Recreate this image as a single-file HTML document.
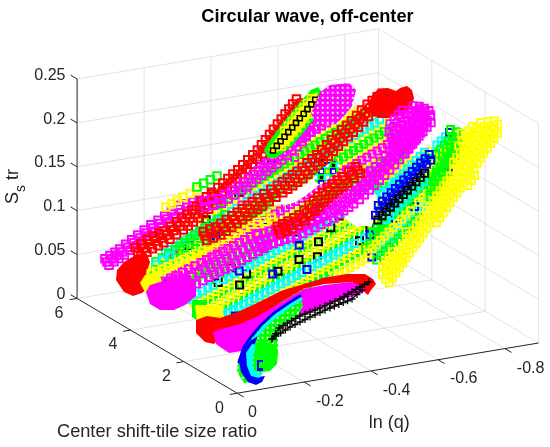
<!DOCTYPE html>
<html><head><meta charset="utf-8"><style>
html,body{margin:0;padding:0;background:#fff;}
body{width:550px;height:447px;overflow:hidden;position:relative;}
svg{position:absolute;left:0;top:0;}
text{font-family:"Liberation Sans",Arial,sans-serif;fill:#262626;}
</style></head><body>
<svg width="550" height="447" viewBox="0 0 550 447">
<rect width="550" height="447" fill="#fff"/>
<g stroke="#dcdcdc" stroke-width="0.8" fill="none"><line x1="144.1" y1="287.3" x2="144.1" y2="67.8"/><line x1="211.0" y1="276.2" x2="211.0" y2="56.7"/><line x1="278.0" y1="265.0" x2="278.0" y2="45.5"/><line x1="344.9" y1="253.9" x2="344.9" y2="34.4"/><line x1="77.1" y1="254.6" x2="378.4" y2="204.4"/><line x1="77.1" y1="210.7" x2="378.4" y2="160.5"/><line x1="77.1" y1="166.8" x2="378.4" y2="116.6"/><line x1="77.1" y1="122.9" x2="378.4" y2="72.7"/><line x1="77.1" y1="79.0" x2="378.4" y2="28.8"/><line x1="538.5" y1="343.0" x2="538.5" y2="123.5"/><line x1="485.1" y1="311.4" x2="485.1" y2="91.9"/><line x1="431.8" y1="279.9" x2="431.8" y2="60.4"/><line x1="378.4" y1="248.3" x2="378.4" y2="28.8"/><line x1="538.5" y1="343.0" x2="378.4" y2="248.3"/><line x1="538.5" y1="299.1" x2="378.4" y2="204.4"/><line x1="538.5" y1="255.2" x2="378.4" y2="160.5"/><line x1="538.5" y1="211.3" x2="378.4" y2="116.6"/><line x1="538.5" y1="167.4" x2="378.4" y2="72.7"/><line x1="538.5" y1="123.5" x2="378.4" y2="28.8"/><line x1="304.2" y1="382.0" x2="144.1" y2="287.3"/><line x1="371.1" y1="370.9" x2="211.0" y2="276.2"/><line x1="438.1" y1="359.7" x2="278.0" y2="265.0"/><line x1="505.0" y1="348.6" x2="344.9" y2="253.9"/><line x1="183.8" y1="361.6" x2="485.1" y2="311.4"/><line x1="130.5" y1="330.1" x2="431.8" y2="279.9"/><line x1="77.1" y1="298.5" x2="378.4" y2="248.3"/></g>
<defs><pattern id="Lr" width="6" height="6" patternUnits="userSpaceOnUse"><rect width="6" height="6" fill="#ff0000"/><rect x="1.6" y="1.6" width="3.2" height="3.2" fill="#fff"/></pattern><pattern id="Dr" width="5" height="5" patternUnits="userSpaceOnUse"><rect width="5" height="5" fill="#ff0000"/><rect x="1.8" y="1.8" width="1.8" height="2" fill="#fff"/></pattern><pattern id="Lm" width="6" height="6" patternUnits="userSpaceOnUse"><rect width="6" height="6" fill="#ff00ff"/><rect x="1.6" y="1.6" width="3.2" height="3.2" fill="#fff"/></pattern><pattern id="Dm" width="5" height="5" patternUnits="userSpaceOnUse"><rect width="5" height="5" fill="#ff00ff"/><rect x="1.8" y="1.8" width="1.8" height="2" fill="#fff"/></pattern><pattern id="Ly" width="6" height="6" patternUnits="userSpaceOnUse"><rect width="6" height="6" fill="#ffff00"/><rect x="1.6" y="1.6" width="3.2" height="3.2" fill="#fff"/></pattern><pattern id="Dy" width="5" height="5" patternUnits="userSpaceOnUse"><rect width="5" height="5" fill="#ffff00"/><rect x="1.8" y="1.8" width="1.8" height="2" fill="#fff"/></pattern><pattern id="Lg" width="6" height="6" patternUnits="userSpaceOnUse"><rect width="6" height="6" fill="#00ff00"/><rect x="1.6" y="1.6" width="3.2" height="3.2" fill="#fff"/></pattern><pattern id="Dg" width="5" height="5" patternUnits="userSpaceOnUse"><rect width="5" height="5" fill="#00ff00"/><rect x="1.8" y="1.8" width="1.8" height="2" fill="#fff"/></pattern><pattern id="Lc" width="6" height="6" patternUnits="userSpaceOnUse"><rect width="6" height="6" fill="#00ffff"/><rect x="1.6" y="1.6" width="3.2" height="3.2" fill="#fff"/></pattern><pattern id="Dc" width="5" height="5" patternUnits="userSpaceOnUse"><rect width="5" height="5" fill="#00ffff"/><rect x="1.8" y="1.8" width="1.8" height="2" fill="#fff"/></pattern><pattern id="Lb" width="6" height="6" patternUnits="userSpaceOnUse"><rect width="6" height="6" fill="#0000ff"/><rect x="1.6" y="1.6" width="3.2" height="3.2" fill="#fff"/></pattern><pattern id="Db" width="5" height="5" patternUnits="userSpaceOnUse"><rect width="5" height="5" fill="#0000ff"/><rect x="1.8" y="1.8" width="1.8" height="2" fill="#fff"/></pattern><pattern id="Lk" width="6" height="6" patternUnits="userSpaceOnUse"><rect width="6" height="6" fill="#000000"/><rect x="1.6" y="1.6" width="3.2" height="3.2" fill="#fff"/></pattern><pattern id="Dk" width="5" height="5" patternUnits="userSpaceOnUse"><rect width="5" height="5" fill="#000000"/><rect x="1.8" y="1.8" width="1.8" height="2" fill="#fff"/></pattern><pattern id="Xyg" width="12" height="12" patternUnits="userSpaceOnUse"><rect width="12" height="12" fill="#ffff00"/><rect x="6" y="0" width="6" height="6" fill="#00ff00"/><rect x="1.8" y="1.8" width="3.3" height="3.3" fill="#fff"/><rect x="7.8" y="1.8" width="3.3" height="3.3" fill="#fff"/><rect x="1.8" y="7.8" width="3.3" height="3.3" fill="#fff"/><rect x="7.8" y="7.8" width="3.3" height="3.3" fill="#0000ff"/></pattern><pattern id="Xym" width="12" height="12" patternUnits="userSpaceOnUse"><rect width="12" height="12" fill="#ffff00"/><rect x="0" y="6" width="6" height="6" fill="#ff00ff"/><rect x="6" y="0" width="6" height="6" fill="#00ff00"/><rect x="1.8" y="1.8" width="3.3" height="3.3" fill="#fff"/><rect x="7.8" y="1.8" width="3.3" height="3.3" fill="#fff"/><rect x="1.8" y="7.8" width="3.3" height="3.3" fill="#fff"/><rect x="7.8" y="7.8" width="3.3" height="3.3" fill="#fff"/></pattern><pattern id="Xgc" width="12" height="12" patternUnits="userSpaceOnUse"><rect width="12" height="12" fill="#00ff00"/><rect x="0" y="6" width="6" height="6" fill="#00ffff"/><rect x="6" y="0" width="6" height="6" fill="#0000ff"/><rect x="1.8" y="1.8" width="3.3" height="3.3" fill="#ffff00"/><rect x="7.8" y="1.8" width="3.3" height="3.3" fill="#fff"/><rect x="1.8" y="7.8" width="3.3" height="3.3" fill="#fff"/><rect x="7.8" y="7.8" width="3.3" height="3.3" fill="#000"/></pattern><pattern id="Xyk" width="12" height="12" patternUnits="userSpaceOnUse"><rect width="12" height="12" fill="#ffff00"/><rect x="6" y="6" width="6" height="6" fill="#00ff00"/><rect x="1.8" y="1.8" width="3.3" height="3.3" fill="#000"/><rect x="7.8" y="1.8" width="3.3" height="3.3" fill="#fff"/><rect x="1.8" y="7.8" width="3.3" height="3.3" fill="#fff"/><rect x="7.8" y="7.8" width="3.3" height="3.3" fill="#000"/></pattern><pattern id="Xgy" width="12" height="12" patternUnits="userSpaceOnUse"><rect width="12" height="12" fill="#ffff00"/><rect x="6" y="0" width="6" height="6" fill="#00ff00"/><rect x="0" y="6" width="6" height="6" fill="#00ff00"/><rect x="1.8" y="1.8" width="3.3" height="3.3" fill="#fff"/><rect x="7.8" y="1.8" width="3.3" height="3.3" fill="#0000ff"/><rect x="1.8" y="7.8" width="3.3" height="3.3" fill="#00ffff"/><rect x="7.8" y="7.8" width="3.3" height="3.3" fill="#fff"/></pattern></defs>
<path d="M307.8 121.5h7v7h-7zM312.9 118.3h7v7h-7zM237.1 180.1h7v7h-7zM242.2 177.0h7v7h-7zM247.3 173.8h7v7h-7zM252.4 170.7h7v7h-7zM257.5 167.5h7v7h-7zM262.6 164.3h7v7h-7zM272.8 158.0h7v7h-7zM277.9 154.9h7v7h-7zM283.0 151.7h7v7h-7zM288.1 148.5h7v7h-7zM293.2 145.4h7v7h-7zM298.3 142.2h7v7h-7zM303.4 139.0h7v7h-7zM308.5 135.9h7v7h-7zM313.6 132.7h7v7h-7zM318.7 129.6h7v7h-7zM323.8 126.4h7v7h-7zM328.9 123.2h7v7h-7zM334.0 120.1h7v7h-7zM339.1 116.9h7v7h-7zM344.2 113.8h7v7h-7zM349.3 110.6h7v7h-7zM354.4 107.4h7v7h-7zM197.6 219.5h7v7h-7zM207.8 213.2h7v7h-7zM212.9 210.0h7v7h-7zM218.0 206.8h7v7h-7zM223.1 203.7h7v7h-7zM228.2 200.5h7v7h-7zM233.3 197.4h7v7h-7zM238.4 194.2h7v7h-7zM248.6 187.9h7v7h-7zM253.7 184.7h7v7h-7zM258.8 181.6h7v7h-7zM263.9 178.4h7v7h-7zM269.0 175.2h7v7h-7zM274.1 172.1h7v7h-7zM279.2 168.9h7v7h-7zM284.3 165.7h7v7h-7zM289.4 162.6h7v7h-7zM294.5 159.4h7v7h-7zM299.6 156.3h7v7h-7zM304.7 153.1h7v7h-7zM309.8 149.9h7v7h-7zM314.9 146.8h7v7h-7zM320.0 143.6h7v7h-7zM325.1 140.5h7v7h-7zM330.2 137.3h7v7h-7zM335.3 134.1h7v7h-7zM340.4 131.0h7v7h-7zM345.5 127.8h7v7h-7zM350.6 124.6h7v7h-7zM355.7 121.5h7v7h-7zM360.8 118.3h7v7h-7zM365.9 115.2h7v7h-7zM371.0 112.0h7v7h-7zM144.5 267.2h7v7h-7zM149.6 264.1h7v7h-7zM154.7 260.9h7v7h-7zM159.8 257.8h7v7h-7zM164.9 254.6h7v7h-7zM175.1 248.3h7v7h-7zM180.2 245.1h7v7h-7zM190.4 238.8h7v7h-7zM195.5 235.6h7v7h-7zM200.6 232.5h7v7h-7zM205.7 229.3h7v7h-7zM210.8 226.1h7v7h-7zM215.9 223.0h7v7h-7zM221.0 219.8h7v7h-7zM226.1 216.7h7v7h-7zM231.2 213.5h7v7h-7zM236.3 210.3h7v7h-7zM241.4 207.2h7v7h-7zM246.5 204.0h7v7h-7zM251.6 200.8h7v7h-7zM256.7 197.7h7v7h-7zM261.8 194.5h7v7h-7zM266.9 191.4h7v7h-7zM272.0 188.2h7v7h-7zM277.1 185.0h7v7h-7zM282.2 181.9h7v7h-7zM287.3 178.7h7v7h-7zM292.4 175.6h7v7h-7zM297.5 172.4h7v7h-7zM302.6 169.2h7v7h-7zM307.7 166.1h7v7h-7zM312.8 162.9h7v7h-7zM317.9 159.7h7v7h-7zM323.0 156.6h7v7h-7zM328.1 153.4h7v7h-7zM333.2 150.3h7v7h-7zM338.3 147.1h7v7h-7zM343.4 143.9h7v7h-7zM348.5 140.8h7v7h-7zM353.6 137.6h7v7h-7zM358.7 134.5h7v7h-7zM363.8 131.3h7v7h-7zM368.9 128.1h7v7h-7zM374.0 125.0h7v7h-7zM379.1 121.8h7v7h-7zM384.2 118.6h7v7h-7zM145.9 281.2h7v7h-7zM151.0 278.0h7v7h-7zM156.1 274.9h7v7h-7zM161.2 271.7h7v7h-7zM166.3 268.6h7v7h-7zM171.4 265.4h7v7h-7zM176.5 262.2h7v7h-7zM181.6 259.1h7v7h-7zM186.7 255.9h7v7h-7zM191.8 252.7h7v7h-7zM196.9 249.6h7v7h-7zM202.0 246.4h7v7h-7zM207.1 243.3h7v7h-7zM212.2 240.1h7v7h-7zM217.3 236.9h7v7h-7zM222.4 233.8h7v7h-7zM227.5 230.6h7v7h-7zM232.6 227.5h7v7h-7zM237.7 224.3h7v7h-7zM242.8 221.1h7v7h-7zM247.9 218.0h7v7h-7zM253.0 214.8h7v7h-7zM258.1 211.6h7v7h-7zM263.2 208.5h7v7h-7zM268.3 205.3h7v7h-7zM273.4 202.2h7v7h-7zM278.5 199.0h7v7h-7zM283.6 195.8h7v7h-7zM288.7 192.7h7v7h-7zM293.8 189.5h7v7h-7zM304.0 183.2h7v7h-7zM309.1 180.0h7v7h-7zM314.2 176.9h7v7h-7zM319.3 173.7h7v7h-7zM324.4 170.5h7v7h-7zM329.5 167.4h7v7h-7zM334.6 164.2h7v7h-7zM339.6 161.1h7v7h-7zM344.7 157.9h7v7h-7zM349.8 154.7h7v7h-7zM354.9 151.6h7v7h-7zM360.0 148.4h7v7h-7zM365.1 145.3h7v7h-7zM370.2 142.1h7v7h-7zM375.3 138.9h7v7h-7zM380.4 135.8h7v7h-7zM385.5 132.6h7v7h-7zM390.6 129.4h7v7h-7zM154.9 290.4h7v7h-7zM160.0 287.3h7v7h-7zM165.1 284.1h7v7h-7zM170.2 280.9h7v7h-7zM175.3 277.8h7v7h-7zM180.4 274.6h7v7h-7zM185.5 271.5h7v7h-7zM190.6 268.3h7v7h-7zM195.7 265.1h7v7h-7zM200.8 262.0h7v7h-7zM205.9 258.8h7v7h-7zM211.0 255.7h7v7h-7zM216.1 252.5h7v7h-7zM221.2 249.3h7v7h-7zM226.3 246.2h7v7h-7zM231.4 243.0h7v7h-7zM236.5 239.8h7v7h-7zM241.6 236.7h7v7h-7zM246.7 233.5h7v7h-7zM251.8 230.4h7v7h-7zM256.9 227.2h7v7h-7zM262.0 224.0h7v7h-7zM267.1 220.9h7v7h-7zM272.2 217.7h7v7h-7zM277.3 214.5h7v7h-7zM282.4 211.4h7v7h-7zM287.5 208.2h7v7h-7zM292.6 205.1h7v7h-7zM297.7 201.9h7v7h-7zM302.8 198.7h7v7h-7zM307.9 195.6h7v7h-7zM313.0 192.4h7v7h-7zM318.1 189.3h7v7h-7zM323.2 186.1h7v7h-7zM328.3 182.9h7v7h-7zM333.4 179.8h7v7h-7zM338.5 176.6h7v7h-7zM343.6 173.4h7v7h-7zM348.7 170.3h7v7h-7zM353.8 167.1h7v7h-7zM358.9 164.0h7v7h-7zM364.0 160.8h7v7h-7zM369.1 157.6h7v7h-7zM374.2 154.5h7v7h-7zM379.3 151.3h7v7h-7zM384.4 148.2h7v7h-7zM389.5 145.0h7v7h-7zM394.6 141.8h7v7h-7zM289.9 221.6h7v7h-7zM295.0 218.4h7v7h-7zM300.1 215.3h7v7h-7zM305.2 212.1h7v7h-7zM310.3 208.9h7v7h-7zM320.5 202.6h7v7h-7zM325.6 199.4h7v7h-7zM330.7 196.3h7v7h-7zM335.8 193.1h7v7h-7zM340.9 190.0h7v7h-7zM346.0 186.8h7v7h-7zM351.1 183.6h7v7h-7zM356.2 180.5h7v7h-7zM361.3 177.3h7v7h-7zM366.4 174.2h7v7h-7zM371.5 171.0h7v7h-7zM376.6 167.8h7v7h-7zM381.7 164.7h7v7h-7zM386.8 161.5h7v7h-7zM391.9 158.3h7v7h-7z" fill="none" stroke="#ffff00" stroke-width="2.0"/>
<path d="M256.8 160.5h7v7h-7zM261.9 157.4h7v7h-7zM292.5 138.4h7v7h-7zM297.6 135.2h7v7h-7zM302.7 132.1h7v7h-7zM307.8 128.9h7v7h-7zM312.9 125.7h7v7h-7zM318.0 122.6h7v7h-7zM323.1 119.4h7v7h-7zM291.2 154.1h7v7h-7zM357.5 113.0h7v7h-7zM243.5 191.0h7v7h-7zM238.4 201.6h7v7h-7zM170.0 251.4h7v7h-7zM149.3 286.5h7v7h-7zM154.4 283.3h7v7h-7zM164.6 277.0h7v7h-7zM169.7 273.8h7v7h-7zM174.8 270.7h7v7h-7zM179.9 267.5h7v7h-7zM185.0 264.3h7v7h-7zM190.1 261.2h7v7h-7zM195.2 258.0h7v7h-7zM200.3 254.9h7v7h-7zM205.4 251.7h7v7h-7zM210.5 248.5h7v7h-7zM215.6 245.4h7v7h-7zM220.7 242.2h7v7h-7zM225.8 239.1h7v7h-7zM230.9 235.9h7v7h-7zM236.0 232.7h7v7h-7zM241.1 229.6h7v7h-7zM246.2 226.4h7v7h-7zM251.3 223.2h7v7h-7zM256.4 220.1h7v7h-7zM266.6 213.8h7v7h-7zM271.7 210.6h7v7h-7zM276.8 207.4h7v7h-7zM281.9 204.3h7v7h-7zM287.0 201.1h7v7h-7zM292.1 197.9h7v7h-7zM297.2 194.8h7v7h-7zM302.3 191.6h7v7h-7zM307.4 188.5h7v7h-7zM312.5 185.3h7v7h-7zM317.6 182.1h7v7h-7zM322.7 179.0h7v7h-7zM327.8 175.8h7v7h-7zM332.9 172.7h7v7h-7zM338.0 169.5h7v7h-7zM343.1 166.3h7v7h-7zM348.2 163.2h7v7h-7zM353.3 160.0h7v7h-7zM358.4 156.8h7v7h-7zM363.5 153.7h7v7h-7zM368.6 150.5h7v7h-7zM373.7 147.4h7v7h-7zM378.8 144.2h7v7h-7zM383.9 141.0h7v7h-7zM389.0 137.9h7v7h-7zM394.1 134.7h7v7h-7zM254.6 236.0h7v7h-7zM361.7 169.6h7v7h-7z" fill="none" stroke="#ff00ff" stroke-width="2.0"/>
<path d="M267.7 161.2h7v7h-7zM235.1 188.8h7v7h-7zM202.7 216.3h7v7h-7zM314.9 154.2h7v7h-7zM185.3 241.9h7v7h-7zM298.9 186.4h7v7h-7z" fill="none" stroke="#000000" stroke-width="2.0"/>
<path d="M214.7 201.5h7v7h-7zM219.8 198.3h7v7h-7zM224.9 195.2h7v7h-7zM230.0 192.0h7v7h-7zM240.2 185.7h7v7h-7zM245.3 182.5h7v7h-7zM250.4 179.4h7v7h-7zM255.5 176.2h7v7h-7zM260.6 173.0h7v7h-7zM265.7 169.9h7v7h-7zM270.8 166.7h7v7h-7zM275.9 163.5h7v7h-7zM281.0 160.4h7v7h-7zM286.1 157.2h7v7h-7zM296.3 150.9h7v7h-7zM301.4 147.7h7v7h-7zM306.5 144.6h7v7h-7zM311.6 141.4h7v7h-7zM316.7 138.3h7v7h-7zM321.8 135.1h7v7h-7zM326.9 131.9h7v7h-7zM332.0 128.8h7v7h-7zM337.1 125.6h7v7h-7zM342.2 122.4h7v7h-7zM347.3 119.3h7v7h-7zM352.4 116.1h7v7h-7zM362.6 109.8h7v7h-7zM141.1 276.7h7v7h-7zM146.2 273.6h7v7h-7zM151.3 270.4h7v7h-7zM156.4 267.3h7v7h-7zM161.5 264.1h7v7h-7zM166.6 260.9h7v7h-7zM171.7 257.8h7v7h-7zM176.8 254.6h7v7h-7zM181.9 251.4h7v7h-7zM187.0 248.3h7v7h-7zM192.1 245.1h7v7h-7zM197.2 242.0h7v7h-7zM202.3 238.8h7v7h-7zM207.4 235.6h7v7h-7zM217.6 229.3h7v7h-7zM222.7 226.1h7v7h-7zM227.8 223.0h7v7h-7zM232.9 219.8h7v7h-7zM238.0 216.7h7v7h-7zM243.1 213.5h7v7h-7zM248.2 210.3h7v7h-7zM253.3 207.2h7v7h-7zM258.4 204.0h7v7h-7zM263.5 200.9h7v7h-7zM268.6 197.7h7v7h-7zM273.7 194.5h7v7h-7zM278.8 191.4h7v7h-7zM283.9 188.2h7v7h-7zM289.0 185.0h7v7h-7zM294.1 181.9h7v7h-7zM299.2 178.7h7v7h-7zM304.3 175.6h7v7h-7zM309.4 172.4h7v7h-7zM314.5 169.2h7v7h-7zM319.6 166.1h7v7h-7zM329.8 159.8h7v7h-7zM334.9 156.6h7v7h-7zM340.0 153.4h7v7h-7zM345.1 150.3h7v7h-7zM350.2 147.1h7v7h-7zM355.3 143.9h7v7h-7zM360.4 140.8h7v7h-7zM365.5 137.6h7v7h-7zM370.6 134.5h7v7h-7zM375.7 131.3h7v7h-7zM380.8 128.1h7v7h-7zM385.9 125.0h7v7h-7zM157.7 296.1h7v7h-7zM162.8 292.9h7v7h-7zM167.9 289.8h7v7h-7zM173.0 286.6h7v7h-7zM178.1 283.4h7v7h-7zM183.2 280.3h7v7h-7zM188.3 277.1h7v7h-7zM193.4 274.0h7v7h-7zM198.5 270.8h7v7h-7zM203.6 267.6h7v7h-7zM208.7 264.5h7v7h-7zM213.8 261.3h7v7h-7zM218.9 258.1h7v7h-7zM224.0 255.0h7v7h-7zM229.1 251.8h7v7h-7zM234.2 248.7h7v7h-7zM239.3 245.5h7v7h-7zM244.4 242.3h7v7h-7zM249.5 239.2h7v7h-7zM259.7 232.9h7v7h-7zM264.8 229.7h7v7h-7zM269.9 226.5h7v7h-7zM275.0 223.4h7v7h-7zM280.1 220.2h7v7h-7zM285.2 217.0h7v7h-7zM290.3 213.9h7v7h-7zM295.4 210.7h7v7h-7zM300.5 207.6h7v7h-7zM305.6 204.4h7v7h-7zM310.7 201.2h7v7h-7zM315.8 198.1h7v7h-7zM320.9 194.9h7v7h-7zM326.0 191.8h7v7h-7zM331.1 188.6h7v7h-7zM336.2 185.4h7v7h-7zM341.3 182.3h7v7h-7zM346.4 179.1h7v7h-7zM351.5 175.9h7v7h-7zM356.6 172.8h7v7h-7zM366.8 166.5h7v7h-7zM371.9 163.3h7v7h-7zM377.0 160.1h7v7h-7zM382.1 157.0h7v7h-7zM387.2 153.8h7v7h-7zM392.3 150.7h7v7h-7z" fill="none" stroke="#00ff00" stroke-width="2.0"/>
<path d="M161.9 249.0h7v7h-7zM167.0 245.9h7v7h-7zM172.1 242.7h7v7h-7zM177.2 239.5h7v7h-7zM182.3 236.4h7v7h-7zM187.4 233.2h7v7h-7zM192.5 230.1h7v7h-7zM197.6 226.9h7v7h-7zM202.7 223.7h7v7h-7zM207.8 220.6h7v7h-7zM212.9 217.4h7v7h-7zM218.0 214.2h7v7h-7zM223.1 211.1h7v7h-7zM228.2 207.9h7v7h-7zM233.3 204.8h7v7h-7zM243.5 198.4h7v7h-7zM248.6 195.3h7v7h-7zM253.7 192.1h7v7h-7zM258.8 189.0h7v7h-7zM263.9 185.8h7v7h-7zM269.0 182.6h7v7h-7zM274.1 179.5h7v7h-7zM279.2 176.3h7v7h-7zM284.3 173.1h7v7h-7zM289.4 170.0h7v7h-7zM294.5 166.8h7v7h-7zM299.6 163.7h7v7h-7zM304.7 160.5h7v7h-7zM309.8 157.3h7v7h-7zM320.0 151.0h7v7h-7zM325.1 147.9h7v7h-7zM330.2 144.7h7v7h-7zM335.3 141.5h7v7h-7zM340.4 138.4h7v7h-7zM345.5 135.2h7v7h-7zM350.6 132.0h7v7h-7zM355.7 128.9h7v7h-7zM360.8 125.7h7v7h-7zM365.9 122.6h7v7h-7zM371.0 119.4h7v7h-7zM376.1 116.2h7v7h-7zM373.2 177.3h7v7h-7zM378.3 174.1h7v7h-7z" fill="none" stroke="#00ffff" stroke-width="2.0"/>
<path d="M212.5 232.5h7v7h-7zM324.7 162.9h7v7h-7zM159.5 280.2h7v7h-7zM261.5 216.9h7v7h-7zM315.4 205.8h7v7h-7z" fill="none" stroke="#0000ff" stroke-width="2.0"/>
<path d="M395.1 158.2h7v7h-7zM400.3 155.3h7v7h-7zM206.8 276.1h7v7h-7zM212.1 273.2h7v7h-7zM217.3 270.3h7v7h-7zM222.6 267.4h7v7h-7zM233.1 261.7h7v7h-7zM238.3 258.8h7v7h-7zM243.6 255.9h7v7h-7zM248.9 253.0h7v7h-7zM254.1 250.1h7v7h-7zM259.4 247.2h7v7h-7zM264.6 244.3h7v7h-7zM269.9 241.4h7v7h-7zM275.2 238.5h7v7h-7zM354.0 195.1h7v7h-7zM359.3 192.3h7v7h-7zM364.5 189.4h7v7h-7zM369.8 186.5h7v7h-7zM375.0 183.6h7v7h-7zM380.3 180.7h7v7h-7zM385.6 177.8h7v7h-7zM390.8 174.9h7v7h-7zM396.1 172.0h7v7h-7zM401.3 169.1h7v7h-7zM406.6 166.2h7v7h-7zM411.8 163.3h7v7h-7zM417.1 160.4h7v7h-7zM427.6 154.7h7v7h-7zM432.9 151.8h7v7h-7zM438.1 148.9h7v7h-7zM194.1 304.7h7v7h-7zM199.3 301.8h7v7h-7zM204.6 298.9h7v7h-7zM209.8 296.0h7v7h-7zM215.1 293.1h7v7h-7zM220.4 290.2h7v7h-7zM225.6 287.3h7v7h-7zM230.9 284.4h7v7h-7zM241.4 278.7h7v7h-7zM246.6 275.8h7v7h-7zM251.9 272.9h7v7h-7zM257.2 270.0h7v7h-7zM262.4 267.1h7v7h-7zM267.7 264.2h7v7h-7zM272.9 261.3h7v7h-7zM278.2 258.4h7v7h-7zM283.4 255.5h7v7h-7zM288.7 252.6h7v7h-7zM294.0 249.7h7v7h-7zM299.2 246.9h7v7h-7zM304.5 244.0h7v7h-7zM309.7 241.1h7v7h-7zM320.2 235.3h7v7h-7zM325.5 232.4h7v7h-7zM330.8 229.5h7v7h-7zM336.0 226.6h7v7h-7zM341.3 223.7h7v7h-7zM346.5 220.8h7v7h-7zM351.8 217.9h7v7h-7zM357.0 215.0h7v7h-7zM362.3 212.2h7v7h-7zM367.6 209.3h7v7h-7zM372.8 206.4h7v7h-7zM378.1 203.5h7v7h-7zM383.3 200.6h7v7h-7zM388.6 197.7h7v7h-7zM393.8 194.8h7v7h-7zM399.1 191.9h7v7h-7zM404.4 189.0h7v7h-7zM414.9 183.2h7v7h-7zM420.1 180.3h7v7h-7zM198.2 316.8h7v7h-7zM203.5 313.9h7v7h-7zM208.7 311.0h7v7h-7zM214.0 308.1h7v7h-7zM219.2 305.2h7v7h-7zM224.5 302.3h7v7h-7zM229.7 299.4h7v7h-7zM235.0 296.5h7v7h-7zM240.3 293.7h7v7h-7zM245.5 290.8h7v7h-7zM250.8 287.9h7v7h-7zM256.0 285.0h7v7h-7zM261.3 282.1h7v7h-7zM266.6 279.2h7v7h-7zM271.8 276.3h7v7h-7zM277.1 273.4h7v7h-7zM282.3 270.5h7v7h-7zM287.6 267.6h7v7h-7zM292.8 264.7h7v7h-7zM298.1 261.9h7v7h-7zM303.4 259.0h7v7h-7zM308.6 256.1h7v7h-7zM319.1 250.3h7v7h-7zM324.4 247.4h7v7h-7zM329.6 244.5h7v7h-7zM334.9 241.6h7v7h-7zM340.2 238.7h7v7h-7zM345.4 235.8h7v7h-7zM350.7 232.9h7v7h-7zM355.9 230.0h7v7h-7zM361.2 227.2h7v7h-7zM371.7 221.4h7v7h-7zM377.0 218.5h7v7h-7zM382.2 215.6h7v7h-7zM387.5 212.7h7v7h-7zM398.0 206.9h7v7h-7zM403.2 204.0h7v7h-7zM220.2 326.3h7v7h-7zM225.4 323.4h7v7h-7zM230.7 320.5h7v7h-7zM236.0 317.6h7v7h-7zM241.2 314.7h7v7h-7zM246.5 311.8h7v7h-7zM251.7 308.9h7v7h-7zM257.0 306.0h7v7h-7zM262.2 303.1h7v7h-7zM267.5 300.2h7v7h-7zM272.8 297.4h7v7h-7zM278.0 294.5h7v7h-7zM283.3 291.6h7v7h-7zM288.5 288.7h7v7h-7zM293.8 285.8h7v7h-7zM299.0 282.9h7v7h-7zM304.3 280.0h7v7h-7zM309.6 277.1h7v7h-7zM314.8 274.2h7v7h-7zM320.1 271.3h7v7h-7zM325.3 268.4h7v7h-7zM330.6 265.6h7v7h-7zM335.8 262.7h7v7h-7zM341.1 259.8h7v7h-7zM346.4 256.9h7v7h-7zM351.6 254.0h7v7h-7zM356.9 251.1h7v7h-7zM362.1 248.2h7v7h-7zM367.4 245.3h7v7h-7zM372.6 242.4h7v7h-7zM377.9 239.5h7v7h-7zM229.9 335.3h7v7h-7zM235.2 332.4h7v7h-7zM240.4 329.5h7v7h-7zM245.7 326.6h7v7h-7zM251.0 323.7h7v7h-7z" fill="none" stroke="#00ff00" stroke-width="2.0"/>
<path d="M379.4 174.0h7v7h-7zM384.6 171.1h7v7h-7zM389.9 168.2h7v7h-7zM395.2 165.3h7v7h-7zM400.4 162.4h7v7h-7zM405.7 159.5h7v7h-7zM410.9 156.6h7v7h-7zM416.2 153.8h7v7h-7zM421.4 150.9h7v7h-7zM426.7 148.0h7v7h-7zM190.6 299.4h7v7h-7zM195.8 296.5h7v7h-7zM201.1 293.6h7v7h-7zM206.3 290.7h7v7h-7zM211.6 287.9h7v7h-7zM216.9 285.0h7v7h-7zM222.1 282.1h7v7h-7zM227.4 279.2h7v7h-7zM232.6 276.3h7v7h-7zM237.9 273.4h7v7h-7zM248.4 267.6h7v7h-7zM253.7 264.7h7v7h-7zM258.9 261.8h7v7h-7zM264.2 258.9h7v7h-7zM269.4 256.0h7v7h-7zM274.7 253.2h7v7h-7zM279.9 250.3h7v7h-7zM285.2 247.4h7v7h-7zM290.5 244.5h7v7h-7zM301.0 238.7h7v7h-7zM306.2 235.8h7v7h-7zM311.5 232.9h7v7h-7zM316.7 230.0h7v7h-7zM322.0 227.1h7v7h-7zM332.5 221.4h7v7h-7zM337.8 218.5h7v7h-7zM343.0 215.6h7v7h-7zM348.3 212.7h7v7h-7zM353.5 209.8h7v7h-7zM358.8 206.9h7v7h-7zM369.3 201.1h7v7h-7zM374.6 198.2h7v7h-7zM379.8 195.3h7v7h-7zM385.1 192.4h7v7h-7zM390.3 189.5h7v7h-7zM395.6 186.7h7v7h-7zM400.9 183.8h7v7h-7zM406.1 180.9h7v7h-7zM416.6 175.1h7v7h-7zM421.9 172.2h7v7h-7zM427.1 169.3h7v7h-7zM195.6 311.0h7v7h-7zM200.9 308.1h7v7h-7zM206.1 305.2h7v7h-7zM211.4 302.4h7v7h-7zM216.6 299.5h7v7h-7zM221.9 296.6h7v7h-7zM227.2 293.7h7v7h-7zM232.4 290.8h7v7h-7zM237.7 287.9h7v7h-7zM242.9 285.0h7v7h-7zM248.2 282.1h7v7h-7zM253.4 279.2h7v7h-7zM258.7 276.3h7v7h-7zM264.0 273.4h7v7h-7zM279.7 264.8h7v7h-7zM285.0 261.9h7v7h-7zM290.2 259.0h7v7h-7zM300.8 253.2h7v7h-7zM306.0 250.3h7v7h-7zM311.3 247.4h7v7h-7zM316.5 244.5h7v7h-7zM321.8 241.6h7v7h-7zM327.0 238.7h7v7h-7zM332.3 235.8h7v7h-7zM337.6 233.0h7v7h-7zM342.8 230.1h7v7h-7zM348.1 227.2h7v7h-7zM353.3 224.3h7v7h-7zM358.6 221.4h7v7h-7zM363.8 218.5h7v7h-7zM369.1 215.6h7v7h-7zM374.4 212.7h7v7h-7zM379.6 209.8h7v7h-7zM384.9 206.9h7v7h-7zM395.4 201.2h7v7h-7zM400.6 198.3h7v7h-7zM405.9 195.4h7v7h-7zM411.2 192.5h7v7h-7zM216.2 321.3h7v7h-7zM226.8 315.5h7v7h-7zM237.3 309.7h7v7h-7zM242.5 306.8h7v7h-7zM247.8 303.9h7v7h-7zM253.0 301.0h7v7h-7zM258.3 298.1h7v7h-7zM263.6 295.2h7v7h-7zM268.8 292.3h7v7h-7zM274.1 289.4h7v7h-7zM279.3 286.6h7v7h-7zM284.6 283.7h7v7h-7zM289.8 280.8h7v7h-7zM295.1 277.9h7v7h-7zM300.4 275.0h7v7h-7zM305.6 272.1h7v7h-7zM310.9 269.2h7v7h-7zM316.1 266.3h7v7h-7zM321.4 263.4h7v7h-7zM326.6 260.5h7v7h-7zM331.9 257.6h7v7h-7zM337.2 254.7h7v7h-7zM342.4 251.9h7v7h-7zM347.7 249.0h7v7h-7zM352.9 246.1h7v7h-7zM358.2 243.2h7v7h-7zM363.4 240.3h7v7h-7zM368.7 237.4h7v7h-7zM374.0 234.5h7v7h-7zM379.2 231.6h7v7h-7zM384.5 228.7h7v7h-7zM389.7 225.8h7v7h-7zM225.7 330.5h7v7h-7zM230.9 327.6h7v7h-7zM236.2 324.7h7v7h-7zM241.4 321.8h7v7h-7zM246.7 318.9h7v7h-7zM251.9 316.0h7v7h-7zM257.2 313.1h7v7h-7zM330.8 272.6h7v7h-7zM336.1 269.7h7v7h-7zM341.3 266.8h7v7h-7zM346.6 263.9h7v7h-7zM351.8 261.1h7v7h-7zM357.1 258.2h7v7h-7zM362.3 255.3h7v7h-7zM367.6 252.4h7v7h-7z" fill="none" stroke="#ffff00" stroke-width="2.0"/>
<path d="M227.8 264.5h7v7h-7zM422.4 157.6h7v7h-7zM214.7 279.0h7v7h-7zM293.6 235.6h7v7h-7zM335.6 212.4h7v7h-7zM346.1 206.7h7v7h-7zM243.1 270.5h7v7h-7zM327.3 224.2h7v7h-7zM364.1 204.0h7v7h-7zM411.4 178.0h7v7h-7zM236.1 281.6h7v7h-7zM315.0 238.2h7v7h-7zM409.6 186.1h7v7h-7zM274.5 267.7h7v7h-7zM295.5 256.1h7v7h-7zM313.9 253.2h7v7h-7zM366.4 224.3h7v7h-7zM392.7 209.8h7v7h-7zM356.0 237.2h7v7h-7z" fill="none" stroke="#000000" stroke-width="2.0"/>
<path d="M183.2 296.3h7v7h-7zM188.4 293.4h7v7h-7zM193.7 290.5h7v7h-7zM198.9 287.6h7v7h-7zM204.2 284.7h7v7h-7zM209.5 281.8h7v7h-7zM220.0 276.1h7v7h-7zM225.2 273.2h7v7h-7zM230.5 270.3h7v7h-7zM241.0 264.5h7v7h-7zM246.3 261.6h7v7h-7zM251.5 258.7h7v7h-7zM256.8 255.8h7v7h-7zM262.0 252.9h7v7h-7zM267.3 250.0h7v7h-7zM272.5 247.1h7v7h-7zM277.8 244.3h7v7h-7zM283.1 241.4h7v7h-7zM288.3 238.5h7v7h-7zM298.8 232.7h7v7h-7zM304.1 229.8h7v7h-7zM309.3 226.9h7v7h-7zM314.6 224.0h7v7h-7zM319.9 221.1h7v7h-7zM325.1 218.2h7v7h-7zM330.4 215.3h7v7h-7zM340.9 209.6h7v7h-7zM351.4 203.8h7v7h-7zM356.7 200.9h7v7h-7zM361.9 198.0h7v7h-7zM367.2 195.1h7v7h-7zM372.4 192.2h7v7h-7zM377.7 189.3h7v7h-7zM382.9 186.4h7v7h-7zM388.2 183.5h7v7h-7zM393.5 180.6h7v7h-7zM398.7 177.7h7v7h-7zM404.0 174.9h7v7h-7zM409.2 172.0h7v7h-7zM414.5 169.1h7v7h-7zM419.7 166.2h7v7h-7zM425.0 163.3h7v7h-7zM430.3 160.4h7v7h-7zM208.8 318.2h7v7h-7zM214.0 315.3h7v7h-7zM219.3 312.4h7v7h-7zM224.5 309.5h7v7h-7zM229.8 306.6h7v7h-7zM235.0 303.7h7v7h-7zM240.3 300.8h7v7h-7zM245.6 297.9h7v7h-7zM250.8 295.0h7v7h-7zM256.1 292.2h7v7h-7zM261.3 289.3h7v7h-7zM266.6 286.4h7v7h-7zM271.8 283.5h7v7h-7zM277.1 280.6h7v7h-7zM282.4 277.7h7v7h-7zM287.6 274.8h7v7h-7zM292.9 271.9h7v7h-7zM298.1 269.0h7v7h-7zM308.6 263.2h7v7h-7zM313.9 260.3h7v7h-7zM319.2 257.5h7v7h-7zM324.4 254.6h7v7h-7zM329.7 251.7h7v7h-7zM334.9 248.8h7v7h-7zM340.2 245.9h7v7h-7zM345.4 243.0h7v7h-7zM350.7 240.1h7v7h-7zM361.2 234.3h7v7h-7zM371.7 228.5h7v7h-7zM377.0 225.6h7v7h-7zM382.2 222.8h7v7h-7zM387.5 219.9h7v7h-7zM392.8 217.0h7v7h-7zM398.0 214.1h7v7h-7zM239.1 337.4h7v7h-7z" fill="none" stroke="#00ffff" stroke-width="2.0"/>
<path d="M235.7 267.4h7v7h-7zM295.7 241.6h7v7h-7zM269.2 270.5h7v7h-7zM390.1 204.0h7v7h-7zM303.4 266.1h7v7h-7zM366.5 231.4h7v7h-7zM221.5 318.4h7v7h-7zM232.0 312.6h7v7h-7z" fill="none" stroke="#0000ff" stroke-width="2.0"/>
<path d="M268.0,209.0 L278.0,198.0 L287.0,192.0 L295.0,188.0 L305.0,183.0 L315.0,177.0 L322.0,171.0 L326.0,171.0 L322.0,182.0 L314.0,189.0 L305.0,196.0 L296.0,202.0 L286.0,205.0 L278.0,204.0 Z" fill="#ffffff"/>
<path d="M344.0,212.0 L350.0,200.0 L360.0,193.0 L372.0,189.0 L377.0,196.0 L376.0,212.0 L372.0,226.0 L356.0,226.0 L346.0,220.0 Z" fill="#ffffff"/>
<path d="M101.2 255.1h7.5v7.5h-7.5zM103.2 258.2h7.5v7.5h-7.5zM105.3 261.4h7.5v7.5h-7.5zM106.2 251.8h7.5v7.5h-7.5zM108.2 254.9h7.5v7.5h-7.5zM110.3 258.0h7.5v7.5h-7.5zM111.2 248.5h7.5v7.5h-7.5zM113.2 251.6h7.5v7.5h-7.5zM115.3 254.7h7.5v7.5h-7.5zM115.9 245.3h7.5v7.5h-7.5zM118.2 248.2h7.5v7.5h-7.5zM120.6 251.2h7.5v7.5h-7.5zM121.9 240.6h7.5v7.5h-7.5zM124.2 243.6h7.5v7.5h-7.5zM126.6 246.5h7.5v7.5h-7.5zM127.9 236.0h7.5v7.5h-7.5zM130.2 238.9h7.5v7.5h-7.5zM132.6 241.9h7.5v7.5h-7.5zM134.0 231.3h7.5v7.5h-7.5zM136.2 234.2h7.5v7.5h-7.5zM138.5 237.2h7.5v7.5h-7.5zM140.5 226.3h7.5v7.5h-7.5zM142.8 229.2h7.5v7.5h-7.5zM145.0 232.2h7.5v7.5h-7.5zM147.2 221.1h7.5v7.5h-7.5zM149.2 224.2h7.5v7.5h-7.5zM151.3 227.4h7.5v7.5h-7.5zM154.2 216.6h7.5v7.5h-7.5zM156.2 219.8h7.5v7.5h-7.5zM158.3 222.9h7.5v7.5h-7.5zM161.0 212.3h7.5v7.5h-7.5zM163.2 215.2h7.5v7.5h-7.5zM165.5 218.2h7.5v7.5h-7.5zM167.5 207.3h7.5v7.5h-7.5zM169.8 210.2h7.5v7.5h-7.5zM172.0 213.2h7.5v7.5h-7.5zM175.3 201.6h7.5v7.5h-7.5zM176.2 205.2h7.5v7.5h-7.5zM177.2 208.9h7.5v7.5h-7.5zM182.0 199.9h7.5v7.5h-7.5zM182.9 203.6h7.5v7.5h-7.5zM183.8 207.2h7.5v7.5h-7.5zM188.7 198.3h7.5v7.5h-7.5zM189.6 201.9h7.5v7.5h-7.5zM190.5 205.6h7.5v7.5h-7.5zM195.3 196.6h7.5v7.5h-7.5zM196.2 200.2h7.5v7.5h-7.5zM197.2 203.9h7.5v7.5h-7.5z" fill="none" stroke="#ff00ff" stroke-width="2.0"/>
<path d="M162.2 203.2h7.5v7.5h-7.5zM167.9 199.9h7.5v7.5h-7.5zM173.6 196.6h7.5v7.5h-7.5zM179.2 193.2h7.5v7.5h-7.5zM186.2 189.8h7.5v7.5h-7.5zM193.2 186.2h7.5v7.5h-7.5z" fill="none" stroke="#ffff00" stroke-width="2.0"/>
<path d="M193.2 183.2h7.5v7.5h-7.5zM199.9 179.6h7.5v7.5h-7.5zM206.6 175.9h7.5v7.5h-7.5zM213.2 172.2h7.5v7.5h-7.5z" fill="none" stroke="#00ff00" stroke-width="2.0"/>
<path d="M131.3 243.9h7.5v7.5h-7.5zM134.2 248.2h7.5v7.5h-7.5zM137.2 252.6h7.5v7.5h-7.5zM137.3 239.9h7.5v7.5h-7.5zM140.2 244.2h7.5v7.5h-7.5zM143.2 248.6h7.5v7.5h-7.5zM143.8 235.6h7.5v7.5h-7.5zM146.2 240.2h7.5v7.5h-7.5zM148.7 244.9h7.5v7.5h-7.5zM149.5 232.6h7.5v7.5h-7.5zM151.9 237.2h7.5v7.5h-7.5zM154.4 241.9h7.5v7.5h-7.5zM155.1 229.6h7.5v7.5h-7.5zM157.6 234.2h7.5v7.5h-7.5zM160.0 238.9h7.5v7.5h-7.5zM160.3 226.9h7.5v7.5h-7.5zM163.2 231.2h7.5v7.5h-7.5zM166.2 235.6h7.5v7.5h-7.5zM166.8 222.4h7.5v7.5h-7.5zM169.8 226.8h7.5v7.5h-7.5zM172.7 231.1h7.5v7.5h-7.5zM173.0 218.2h7.5v7.5h-7.5zM176.2 222.2h7.5v7.5h-7.5zM179.5 226.3h7.5v7.5h-7.5zM178.0 214.2h7.5v7.5h-7.5zM181.2 218.2h7.5v7.5h-7.5zM184.5 222.3h7.5v7.5h-7.5zM183.0 210.2h7.5v7.5h-7.5zM186.2 214.2h7.5v7.5h-7.5zM189.5 218.3h7.5v7.5h-7.5zM188.0 206.2h7.5v7.5h-7.5zM191.2 210.2h7.5v7.5h-7.5zM194.5 214.3h7.5v7.5h-7.5zM192.7 202.4h7.5v7.5h-7.5zM196.2 206.2h7.5v7.5h-7.5zM199.8 210.1h7.5v7.5h-7.5zM197.7 197.7h7.5v7.5h-7.5zM201.2 201.6h7.5v7.5h-7.5zM204.8 205.4h7.5v7.5h-7.5zM202.7 193.1h7.5v7.5h-7.5zM206.2 196.9h7.5v7.5h-7.5zM209.8 200.8h7.5v7.5h-7.5zM207.7 188.4h7.5v7.5h-7.5zM211.2 192.2h7.5v7.5h-7.5zM214.8 196.1h7.5v7.5h-7.5z" fill="none" stroke="#ff0000" stroke-width="2.0"/>
<path d="M208.8 190.2h7.5v7.5h-7.5zM213.7 194.3h7.5v7.5h-7.5zM214.1 183.8h7.5v7.5h-7.5zM218.4 188.7h7.5v7.5h-7.5zM219.1 179.3h7.5v7.5h-7.5zM223.4 184.2h7.5v7.5h-7.5zM224.1 174.8h7.5v7.5h-7.5zM228.4 179.7h7.5v7.5h-7.5zM229.1 170.3h7.5v7.5h-7.5zM233.4 175.2h7.5v7.5h-7.5zM234.0 166.0h7.5v7.5h-7.5zM238.5 170.5h7.5v7.5h-7.5zM239.0 161.0h7.5v7.5h-7.5zM243.5 165.5h7.5v7.5h-7.5zM244.0 156.0h7.5v7.5h-7.5zM248.5 160.5h7.5v7.5h-7.5zM249.0 151.0h7.5v7.5h-7.5zM253.5 155.5h7.5v7.5h-7.5zM253.7 146.3h7.5v7.5h-7.5zM258.8 150.2h7.5v7.5h-7.5zM257.7 141.1h7.5v7.5h-7.5zM262.8 145.0h7.5v7.5h-7.5zM261.7 135.9h7.5v7.5h-7.5zM266.8 139.8h7.5v7.5h-7.5zM265.7 130.7h7.5v7.5h-7.5zM270.8 134.6h7.5v7.5h-7.5zM269.7 125.5h7.5v7.5h-7.5zM274.8 129.4h7.5v7.5h-7.5zM273.7 120.3h7.5v7.5h-7.5zM278.8 124.2h7.5v7.5h-7.5zM277.5 115.3h7.5v7.5h-7.5zM282.6 119.2h7.5v7.5h-7.5zM281.3 110.3h7.5v7.5h-7.5zM286.4 114.2h7.5v7.5h-7.5zM285.1 105.3h7.5v7.5h-7.5zM290.2 109.2h7.5v7.5h-7.5zM288.9 100.3h7.5v7.5h-7.5zM294.0 104.2h7.5v7.5h-7.5zM292.7 95.3h7.5v7.5h-7.5zM297.8 99.2h7.5v7.5h-7.5z" fill="none" stroke="#ff0000" stroke-width="2.0"/>
<path d="M200.7 197.6h7.5v7.5h-7.5zM201.8 202.9h7.5v7.5h-7.5zM208.2 196.1h7.5v7.5h-7.5zM209.3 201.4h7.5v7.5h-7.5zM214.8 194.9h7.5v7.5h-7.5zM217.7 199.6h7.5v7.5h-7.5zM221.4 190.6h7.5v7.5h-7.5zM224.4 195.2h7.5v7.5h-7.5zM228.1 186.3h7.5v7.5h-7.5zM231.1 190.9h7.5v7.5h-7.5zM234.6 182.1h7.5v7.5h-7.5zM237.9 186.4h7.5v7.5h-7.5zM239.6 178.3h7.5v7.5h-7.5zM242.9 182.7h7.5v7.5h-7.5zM244.6 174.6h7.5v7.5h-7.5zM247.9 178.9h7.5v7.5h-7.5zM249.6 170.8h7.5v7.5h-7.5zM252.9 175.2h7.5v7.5h-7.5zM254.6 167.1h7.5v7.5h-7.5zM257.9 171.4h7.5v7.5h-7.5zM259.6 163.3h7.5v7.5h-7.5zM262.9 167.7h7.5v7.5h-7.5zM264.6 159.6h7.5v7.5h-7.5zM267.9 163.9h7.5v7.5h-7.5zM269.6 155.8h7.5v7.5h-7.5zM272.9 160.2h7.5v7.5h-7.5zM274.4 152.2h7.5v7.5h-7.5zM278.1 156.3h7.5v7.5h-7.5zM279.4 147.7h7.5v7.5h-7.5zM283.1 151.8h7.5v7.5h-7.5zM284.4 143.2h7.5v7.5h-7.5zM288.1 147.3h7.5v7.5h-7.5zM289.4 138.7h7.5v7.5h-7.5zM293.1 142.8h7.5v7.5h-7.5zM294.1 134.5h7.5v7.5h-7.5zM298.4 138.0h7.5v7.5h-7.5zM298.1 129.5h7.5v7.5h-7.5zM302.4 133.0h7.5v7.5h-7.5zM302.1 124.5h7.5v7.5h-7.5zM306.4 128.0h7.5v7.5h-7.5zM306.1 119.5h7.5v7.5h-7.5zM310.4 123.0h7.5v7.5h-7.5zM310.1 114.5h7.5v7.5h-7.5zM314.4 118.0h7.5v7.5h-7.5z" fill="none" stroke="#ff00ff" stroke-width="2.0"/>
<path d="M116.0,280.0 L117.0,270.0 L124.0,262.0 L134.0,256.0 L146.0,252.0 L150.0,262.0 L146.0,274.0 L150.0,286.0 L142.0,293.0 L133.0,296.0 L124.0,292.0 Z" fill="#ff0000"/>
<path d="M264.0,150.0 L268.0,143.0 L282.0,124.0 L300.0,102.0 L311.0,90.0 L318.0,87.0 L322.0,92.0 L318.0,110.0 L315.0,118.0 L304.0,132.0 L291.0,147.0 L276.0,158.0 L268.0,158.0 Z" fill="#00ff00"/>
<path d="M268.0,150.0 L284.0,128.0 L302.0,106.0 L313.0,94.0 L318.0,92.0 L314.0,110.0 L302.0,128.0 L288.0,144.0 L275.0,154.0 Z" fill="#ffff00"/>
<path d="M280.7 127.2h5v5h-5zM284.5 122.6h5v5h-5zM288.4 118.0h5v5h-5zM292.2 113.4h5v5h-5zM296.0 108.7h5v5h-5zM299.9 104.1h5v5h-5zM303.7 99.5h5v5h-5zM307.6 94.9h5v5h-5zM280.2 144.9h5v5h-5zM284.1 140.3h5v5h-5zM287.9 135.7h5v5h-5zM291.8 131.1h5v5h-5zM295.6 126.5h5v5h-5zM299.4 121.9h5v5h-5zM303.3 117.2h5v5h-5zM307.1 112.6h5v5h-5zM311.0 108.0h5v5h-5z" fill="none" stroke="#ffff00" stroke-width="1.6"/>
<path d="M270.5 148.0h5v5h-5zM274.3 143.4h5v5h-5zM278.1 138.8h5v5h-5zM282.0 134.2h5v5h-5zM285.8 129.6h5v5h-5zM289.7 125.0h5v5h-5zM293.5 120.4h5v5h-5zM297.3 115.8h5v5h-5zM301.2 111.2h5v5h-5zM305.0 106.6h5v5h-5zM308.9 101.9h5v5h-5zM312.7 97.3h5v5h-5z" fill="none" stroke="#000000" stroke-width="1.6"/>
<path d="M311.0,114.0 L320.0,92.0 L330.0,85.0 L349.0,83.0 L356.0,90.0 L352.0,106.0 L345.0,115.0 L336.0,124.0 L318.0,125.0 Z" fill="url(#Dm)"/>
<path d="M152.2 258.2h7.5v7.5h-7.5zM158.6 254.2h7.5v7.5h-7.5zM164.9 250.2h7.5v7.5h-7.5zM171.2 246.2h7.5v7.5h-7.5zM176.2 242.6h7.5v7.5h-7.5zM181.2 238.9h7.5v7.5h-7.5zM186.2 235.2h7.5v7.5h-7.5zM191.2 231.6h7.5v7.5h-7.5zM196.2 227.9h7.5v7.5h-7.5zM201.2 224.2h7.5v7.5h-7.5zM207.9 219.9h7.5v7.5h-7.5zM214.6 215.6h7.5v7.5h-7.5zM221.2 211.2h7.5v7.5h-7.5z" fill="none" stroke="#00ff00" stroke-width="2.0"/>
<path d="M152.2 261.2h7.5v7.5h-7.5zM159.2 256.8h7.5v7.5h-7.5zM166.2 252.2h7.5v7.5h-7.5z" fill="none" stroke="#00ffff" stroke-width="2.0"/>
<path d="M147.4 270.2h7.5v7.5h-7.5zM149.1 274.3h7.5v7.5h-7.5zM153.0 267.8h7.5v7.5h-7.5zM154.7 271.9h7.5v7.5h-7.5zM158.6 265.4h7.5v7.5h-7.5zM160.3 269.5h7.5v7.5h-7.5zM164.2 263.0h7.5v7.5h-7.5zM165.9 267.1h7.5v7.5h-7.5zM169.8 260.6h7.5v7.5h-7.5zM171.5 264.7h7.5v7.5h-7.5zM175.3 258.2h7.5v7.5h-7.5zM177.2 262.3h7.5v7.5h-7.5zM181.1 255.5h7.5v7.5h-7.5zM183.0 259.6h7.5v7.5h-7.5zM187.0 252.9h7.5v7.5h-7.5zM188.9 257.0h7.5v7.5h-7.5zM192.8 250.2h7.5v7.5h-7.5zM194.7 254.3h7.5v7.5h-7.5zM198.6 247.5h7.5v7.5h-7.5zM200.5 251.6h7.5v7.5h-7.5zM204.5 244.9h7.5v7.5h-7.5zM206.4 249.0h7.5v7.5h-7.5zM210.2 242.2h7.5v7.5h-7.5zM212.3 246.3h7.5v7.5h-7.5zM216.2 239.2h7.5v7.5h-7.5zM218.3 243.3h7.5v7.5h-7.5zM222.2 236.2h7.5v7.5h-7.5zM224.3 240.3h7.5v7.5h-7.5zM228.2 233.2h7.5v7.5h-7.5zM230.3 237.3h7.5v7.5h-7.5zM234.2 230.2h7.5v7.5h-7.5zM236.3 234.3h7.5v7.5h-7.5zM240.3 227.2h7.5v7.5h-7.5zM242.2 231.3h7.5v7.5h-7.5zM247.0 224.0h7.5v7.5h-7.5zM249.0 228.0h7.5v7.5h-7.5zM253.8 220.7h7.5v7.5h-7.5zM255.7 224.8h7.5v7.5h-7.5zM260.5 217.5h7.5v7.5h-7.5zM262.5 221.5h7.5v7.5h-7.5zM267.3 214.2h7.5v7.5h-7.5zM269.2 218.3h7.5v7.5h-7.5z" fill="none" stroke="#ffff00" stroke-width="2.0"/>
<path d="M150.6 282.9h7.5v7.5h-7.5zM154.2 290.2h7.5v7.5h-7.5zM157.9 297.6h7.5v7.5h-7.5zM156.1 280.1h7.5v7.5h-7.5zM159.8 287.5h7.5v7.5h-7.5zM163.4 294.9h7.5v7.5h-7.5zM161.6 277.4h7.5v7.5h-7.5zM165.2 284.8h7.5v7.5h-7.5zM168.9 292.1h7.5v7.5h-7.5zM167.1 274.6h7.5v7.5h-7.5zM170.8 282.0h7.5v7.5h-7.5zM174.4 289.4h7.5v7.5h-7.5zM172.4 271.9h7.5v7.5h-7.5zM176.2 279.2h7.5v7.5h-7.5zM180.1 286.6h7.5v7.5h-7.5zM178.7 268.7h7.5v7.5h-7.5zM182.5 276.0h7.5v7.5h-7.5zM186.3 283.3h7.5v7.5h-7.5zM184.9 265.4h7.5v7.5h-7.5zM188.8 272.8h7.5v7.5h-7.5zM192.6 280.1h7.5v7.5h-7.5zM191.2 262.2h7.5v7.5h-7.5zM195.0 269.5h7.5v7.5h-7.5zM198.8 276.8h7.5v7.5h-7.5zM197.5 258.9h7.5v7.5h-7.5zM201.2 266.2h7.5v7.5h-7.5zM205.0 273.6h7.5v7.5h-7.5zM202.9 256.1h7.5v7.5h-7.5zM206.7 263.4h7.5v7.5h-7.5zM210.4 270.8h7.5v7.5h-7.5zM208.3 253.3h7.5v7.5h-7.5zM212.1 260.6h7.5v7.5h-7.5zM215.8 268.0h7.5v7.5h-7.5zM213.7 250.5h7.5v7.5h-7.5zM217.4 257.9h7.5v7.5h-7.5zM221.2 265.2h7.5v7.5h-7.5zM219.1 247.7h7.5v7.5h-7.5zM222.8 255.1h7.5v7.5h-7.5zM226.6 262.4h7.5v7.5h-7.5zM224.4 245.0h7.5v7.5h-7.5zM228.2 252.2h7.5v7.5h-7.5zM232.1 259.5h7.5v7.5h-7.5zM230.0 242.0h7.5v7.5h-7.5zM233.8 249.2h7.5v7.5h-7.5zM237.7 256.5h7.5v7.5h-7.5zM235.6 239.0h7.5v7.5h-7.5zM239.4 246.2h7.5v7.5h-7.5zM243.3 253.5h7.5v7.5h-7.5zM241.2 236.0h7.5v7.5h-7.5zM245.1 243.2h7.5v7.5h-7.5zM248.9 250.5h7.5v7.5h-7.5zM246.8 233.0h7.5v7.5h-7.5zM250.7 240.2h7.5v7.5h-7.5zM254.5 247.5h7.5v7.5h-7.5zM252.4 230.0h7.5v7.5h-7.5zM256.2 237.2h7.5v7.5h-7.5zM260.1 244.5h7.5v7.5h-7.5z" fill="none" stroke="#ff00ff" stroke-width="2.0"/>
<path d="M254.3 231.3h7.5v7.5h-7.5zM256.2 237.2h7.5v7.5h-7.5zM258.2 243.2h7.5v7.5h-7.5zM260.0 229.4h7.5v7.5h-7.5zM262.0 235.4h7.5v7.5h-7.5zM263.9 241.3h7.5v7.5h-7.5zM265.7 227.6h7.5v7.5h-7.5zM267.7 233.5h7.5v7.5h-7.5zM269.6 239.5h7.5v7.5h-7.5zM271.5 225.7h7.5v7.5h-7.5zM273.4 231.7h7.5v7.5h-7.5zM275.3 237.6h7.5v7.5h-7.5zM277.2 223.9h7.5v7.5h-7.5zM279.1 229.8h7.5v7.5h-7.5zM281.0 235.8h7.5v7.5h-7.5zM282.9 222.0h7.5v7.5h-7.5zM284.8 228.0h7.5v7.5h-7.5zM286.8 233.9h7.5v7.5h-7.5zM288.6 220.2h7.5v7.5h-7.5zM290.5 226.1h7.5v7.5h-7.5zM292.5 232.1h7.5v7.5h-7.5zM293.5 218.7h7.5v7.5h-7.5zM296.2 224.2h7.5v7.5h-7.5zM299.0 229.8h7.5v7.5h-7.5zM299.5 215.7h7.5v7.5h-7.5zM302.2 221.2h7.5v7.5h-7.5zM305.0 226.8h7.5v7.5h-7.5zM305.5 212.7h7.5v7.5h-7.5zM308.2 218.2h7.5v7.5h-7.5zM311.0 223.8h7.5v7.5h-7.5zM311.5 209.7h7.5v7.5h-7.5zM314.2 215.2h7.5v7.5h-7.5zM317.0 220.8h7.5v7.5h-7.5zM317.5 206.7h7.5v7.5h-7.5zM320.2 212.2h7.5v7.5h-7.5zM323.0 217.8h7.5v7.5h-7.5zM322.6 204.2h7.5v7.5h-7.5zM326.2 209.2h7.5v7.5h-7.5zM329.9 214.3h7.5v7.5h-7.5zM327.6 200.6h7.5v7.5h-7.5zM331.2 205.7h7.5v7.5h-7.5zM334.9 210.7h7.5v7.5h-7.5zM332.6 197.0h7.5v7.5h-7.5zM336.2 202.1h7.5v7.5h-7.5zM339.9 207.1h7.5v7.5h-7.5zM337.6 193.4h7.5v7.5h-7.5zM341.2 198.4h7.5v7.5h-7.5zM344.9 203.5h7.5v7.5h-7.5zM342.6 189.8h7.5v7.5h-7.5zM346.2 194.8h7.5v7.5h-7.5zM349.9 199.9h7.5v7.5h-7.5zM346.9 186.7h7.5v7.5h-7.5zM351.2 191.2h7.5v7.5h-7.5zM355.6 195.8h7.5v7.5h-7.5zM351.9 181.9h7.5v7.5h-7.5zM356.2 186.4h7.5v7.5h-7.5zM360.6 191.0h7.5v7.5h-7.5zM356.9 177.1h7.5v7.5h-7.5zM361.2 181.7h7.5v7.5h-7.5zM365.6 186.2h7.5v7.5h-7.5zM361.9 172.3h7.5v7.5h-7.5zM366.2 176.8h7.5v7.5h-7.5zM370.6 181.4h7.5v7.5h-7.5zM366.9 167.5h7.5v7.5h-7.5zM371.2 172.1h7.5v7.5h-7.5zM375.6 176.6h7.5v7.5h-7.5zM371.7 162.9h7.5v7.5h-7.5zM376.2 167.2h7.5v7.5h-7.5zM380.8 171.6h7.5v7.5h-7.5zM376.7 157.7h7.5v7.5h-7.5zM381.2 162.0h7.5v7.5h-7.5zM385.8 166.3h7.5v7.5h-7.5zM381.7 152.4h7.5v7.5h-7.5zM386.2 156.8h7.5v7.5h-7.5zM390.8 161.1h7.5v7.5h-7.5zM386.7 147.2h7.5v7.5h-7.5zM391.2 151.5h7.5v7.5h-7.5zM395.8 155.8h7.5v7.5h-7.5zM391.2 142.5h7.5v7.5h-7.5zM396.2 146.2h7.5v7.5h-7.5zM401.2 150.0h7.5v7.5h-7.5zM395.0 137.5h7.5v7.5h-7.5zM400.0 141.2h7.5v7.5h-7.5zM405.0 145.0h7.5v7.5h-7.5zM398.8 132.5h7.5v7.5h-7.5zM403.8 136.2h7.5v7.5h-7.5zM408.8 140.0h7.5v7.5h-7.5zM402.5 127.5h7.5v7.5h-7.5zM407.5 131.2h7.5v7.5h-7.5zM412.5 135.0h7.5v7.5h-7.5zM405.8 123.2h7.5v7.5h-7.5zM411.2 126.2h7.5v7.5h-7.5zM416.7 129.3h7.5v7.5h-7.5zM409.1 117.2h7.5v7.5h-7.5zM414.6 120.2h7.5v7.5h-7.5zM420.0 123.3h7.5v7.5h-7.5zM412.5 111.2h7.5v7.5h-7.5zM417.9 114.2h7.5v7.5h-7.5zM423.4 117.3h7.5v7.5h-7.5zM415.8 105.2h7.5v7.5h-7.5zM421.2 108.2h7.5v7.5h-7.5zM426.7 111.3h7.5v7.5h-7.5z" fill="none" stroke="#ff00ff" stroke-width="2.0"/>
<path d="M140.0,283.0 L145.0,275.0 L156.0,274.0 L162.0,280.0 L158.0,292.0 L146.0,294.0 Z" fill="#ffff00"/>
<path d="M146.0,292.0 L150.0,285.0 L160.0,282.0 L174.0,280.0 L186.0,276.0 L196.0,280.0 L196.0,296.0 L185.0,305.0 L174.0,310.0 L160.0,310.0 L150.0,304.0 Z" fill="#ff00ff"/>
<path d="M199.5 227.8h7.5v7.5h-7.5zM201.2 232.2h7.5v7.5h-7.5zM203.0 236.7h7.5v7.5h-7.5zM206.0 225.3h7.5v7.5h-7.5zM207.8 229.8h7.5v7.5h-7.5zM209.5 234.2h7.5v7.5h-7.5zM211.6 223.3h7.5v7.5h-7.5zM214.2 227.2h7.5v7.5h-7.5zM216.9 231.2h7.5v7.5h-7.5zM217.1 219.6h7.5v7.5h-7.5zM219.8 223.5h7.5v7.5h-7.5zM222.4 227.4h7.5v7.5h-7.5zM222.6 215.8h7.5v7.5h-7.5zM225.2 219.8h7.5v7.5h-7.5zM227.9 223.7h7.5v7.5h-7.5zM228.1 212.1h7.5v7.5h-7.5zM230.8 216.0h7.5v7.5h-7.5zM233.4 219.9h7.5v7.5h-7.5zM233.5 208.4h7.5v7.5h-7.5zM236.2 212.2h7.5v7.5h-7.5zM239.0 216.1h7.5v7.5h-7.5zM238.5 204.9h7.5v7.5h-7.5zM241.2 208.8h7.5v7.5h-7.5zM244.0 212.6h7.5v7.5h-7.5zM243.5 201.4h7.5v7.5h-7.5zM246.2 205.2h7.5v7.5h-7.5zM249.0 209.1h7.5v7.5h-7.5zM248.5 197.9h7.5v7.5h-7.5zM251.2 201.8h7.5v7.5h-7.5zM254.0 205.6h7.5v7.5h-7.5zM253.7 194.3h7.5v7.5h-7.5zM256.2 198.2h7.5v7.5h-7.5zM258.8 202.2h7.5v7.5h-7.5zM260.3 189.9h7.5v7.5h-7.5zM262.9 193.9h7.5v7.5h-7.5zM265.5 197.9h7.5v7.5h-7.5zM267.0 185.6h7.5v7.5h-7.5zM269.6 189.6h7.5v7.5h-7.5zM272.2 193.6h7.5v7.5h-7.5zM273.5 181.4h7.5v7.5h-7.5zM276.2 185.2h7.5v7.5h-7.5zM279.0 189.1h7.5v7.5h-7.5zM278.5 177.9h7.5v7.5h-7.5zM281.2 181.8h7.5v7.5h-7.5zM284.0 185.6h7.5v7.5h-7.5zM283.5 174.4h7.5v7.5h-7.5zM286.2 178.2h7.5v7.5h-7.5zM289.0 182.1h7.5v7.5h-7.5zM288.5 170.9h7.5v7.5h-7.5zM291.2 174.8h7.5v7.5h-7.5zM294.0 178.6h7.5v7.5h-7.5zM293.2 167.6h7.5v7.5h-7.5zM296.2 171.2h7.5v7.5h-7.5zM299.3 174.9h7.5v7.5h-7.5zM298.2 163.4h7.5v7.5h-7.5zM301.2 167.0h7.5v7.5h-7.5zM304.3 170.6h7.5v7.5h-7.5zM303.2 159.1h7.5v7.5h-7.5zM306.2 162.8h7.5v7.5h-7.5zM309.3 166.4h7.5v7.5h-7.5zM308.2 154.9h7.5v7.5h-7.5zM311.2 158.5h7.5v7.5h-7.5zM314.3 162.1h7.5v7.5h-7.5zM312.9 150.9h7.5v7.5h-7.5zM316.2 154.2h7.5v7.5h-7.5zM319.6 157.6h7.5v7.5h-7.5zM317.9 145.9h7.5v7.5h-7.5zM321.2 149.2h7.5v7.5h-7.5zM324.6 152.6h7.5v7.5h-7.5zM322.9 140.9h7.5v7.5h-7.5zM326.2 144.2h7.5v7.5h-7.5zM329.6 147.6h7.5v7.5h-7.5zM327.9 135.9h7.5v7.5h-7.5zM331.2 139.2h7.5v7.5h-7.5zM334.6 142.6h7.5v7.5h-7.5zM333.0 130.8h7.5v7.5h-7.5zM336.2 134.2h7.5v7.5h-7.5zM339.5 137.7h7.5v7.5h-7.5zM338.0 126.1h7.5v7.5h-7.5zM341.2 129.6h7.5v7.5h-7.5zM344.5 133.1h7.5v7.5h-7.5zM343.0 121.4h7.5v7.5h-7.5zM346.2 124.9h7.5v7.5h-7.5zM349.5 128.4h7.5v7.5h-7.5zM347.8 117.0h7.5v7.5h-7.5zM351.2 120.2h7.5v7.5h-7.5zM354.7 123.5h7.5v7.5h-7.5zM352.8 111.7h7.5v7.5h-7.5zM356.2 114.9h7.5v7.5h-7.5zM359.7 118.2h7.5v7.5h-7.5zM357.8 106.3h7.5v7.5h-7.5zM361.2 109.6h7.5v7.5h-7.5zM364.7 112.8h7.5v7.5h-7.5zM363.4 100.4h7.5v7.5h-7.5zM366.2 104.2h7.5v7.5h-7.5zM369.1 108.1h7.5v7.5h-7.5zM368.4 96.8h7.5v7.5h-7.5zM371.2 100.6h7.5v7.5h-7.5zM374.1 104.4h7.5v7.5h-7.5zM373.4 93.1h7.5v7.5h-7.5zM376.2 96.9h7.5v7.5h-7.5zM379.1 100.7h7.5v7.5h-7.5zM378.4 89.4h7.5v7.5h-7.5zM381.2 93.2h7.5v7.5h-7.5zM384.1 97.1h7.5v7.5h-7.5z" fill="none" stroke="#ff0000" stroke-width="2.0"/>
<path d="M368.0,104.0 L373.0,94.0 L378.0,89.0 L388.0,88.0 L396.0,91.0 L400.0,88.0 L407.0,86.0 L412.0,90.0 L414.0,98.0 L412.0,106.0 L406.0,112.0 L398.0,116.0 L388.0,118.0 L378.0,118.0 L370.0,113.0 Z" fill="#ff0000"/>
<path d="M273.5 222.4h7.5v7.5h-7.5zM275.2 226.2h7.5v7.5h-7.5zM277.0 230.1h7.5v7.5h-7.5zM279.0 219.9h7.5v7.5h-7.5zM280.8 223.8h7.5v7.5h-7.5zM282.5 227.6h7.5v7.5h-7.5zM284.1 217.6h7.5v7.5h-7.5zM286.2 221.2h7.5v7.5h-7.5zM288.4 224.9h7.5v7.5h-7.5zM290.1 214.1h7.5v7.5h-7.5zM292.2 217.8h7.5v7.5h-7.5zM294.4 221.4h7.5v7.5h-7.5zM295.2 211.2h7.5v7.5h-7.5zM298.2 214.2h7.5v7.5h-7.5zM301.3 217.3h7.5v7.5h-7.5zM300.2 206.2h7.5v7.5h-7.5zM303.2 209.2h7.5v7.5h-7.5zM306.3 212.3h7.5v7.5h-7.5zM305.3 201.2h7.5v7.5h-7.5zM308.2 204.2h7.5v7.5h-7.5zM311.2 207.3h7.5v7.5h-7.5zM309.8 196.9h7.5v7.5h-7.5zM312.8 200.0h7.5v7.5h-7.5zM315.7 203.1h7.5v7.5h-7.5zM314.3 192.7h7.5v7.5h-7.5zM317.2 195.8h7.5v7.5h-7.5zM320.2 198.8h7.5v7.5h-7.5zM318.8 188.4h7.5v7.5h-7.5zM321.8 191.5h7.5v7.5h-7.5zM324.7 194.6h7.5v7.5h-7.5zM323.7 183.8h7.5v7.5h-7.5zM326.2 187.2h7.5v7.5h-7.5zM328.8 190.7h7.5v7.5h-7.5zM328.7 180.2h7.5v7.5h-7.5zM331.2 183.6h7.5v7.5h-7.5zM333.8 187.0h7.5v7.5h-7.5zM333.7 176.5h7.5v7.5h-7.5zM336.2 179.9h7.5v7.5h-7.5zM338.8 183.3h7.5v7.5h-7.5zM338.7 172.9h7.5v7.5h-7.5zM341.2 176.2h7.5v7.5h-7.5zM343.8 179.6h7.5v7.5h-7.5zM345.2 167.9h7.5v7.5h-7.5zM347.8 171.2h7.5v7.5h-7.5zM350.3 174.6h7.5v7.5h-7.5zM351.7 162.9h7.5v7.5h-7.5zM354.2 166.2h7.5v7.5h-7.5zM356.8 169.6h7.5v7.5h-7.5z" fill="none" stroke="#ff0000" stroke-width="2.0"/>
<path d="M320.0,178.0 L334.0,167.0" fill="none" stroke="url(#Xgc)" stroke-width="12.0" stroke-linejoin="round" stroke-linecap="round"/>
<path d="M386.5 120.1h7v7h-7zM390.6 115.7h7v7h-7zM394.6 111.2h7v7h-7zM398.7 106.8h7v7h-7zM385.4 128.8h7v7h-7zM389.5 124.3h7v7h-7zM393.5 119.9h7v7h-7zM397.5 115.4h7v7h-7zM401.6 111.0h7v7h-7zM405.6 106.6h7v7h-7zM409.6 102.1h7v7h-7zM387.5 133.9h7v7h-7zM391.5 129.5h7v7h-7zM395.6 125.0h7v7h-7zM399.6 120.6h7v7h-7zM403.6 116.2h7v7h-7zM407.7 111.7h7v7h-7zM411.7 107.3h7v7h-7zM415.8 102.8h7v7h-7zM388.5 140.3h7v7h-7zM392.5 135.8h7v7h-7zM396.6 131.4h7v7h-7zM400.6 126.9h7v7h-7zM404.6 122.5h7v7h-7zM408.7 118.1h7v7h-7zM412.7 113.6h7v7h-7zM416.7 109.2h7v7h-7zM420.8 104.7h7v7h-7zM389.1 147.0h7v7h-7zM393.2 142.5h7v7h-7zM397.2 138.1h7v7h-7zM401.2 133.7h7v7h-7zM405.3 129.2h7v7h-7zM409.3 124.8h7v7h-7zM413.3 120.4h7v7h-7zM417.4 115.9h7v7h-7zM421.4 111.5h7v7h-7zM425.5 107.0h7v7h-7zM394.6 148.4h7v7h-7zM398.7 143.9h7v7h-7zM402.7 139.5h7v7h-7zM406.7 135.1h7v7h-7zM410.8 130.6h7v7h-7zM414.8 126.2h7v7h-7zM418.8 121.7h7v7h-7zM422.9 117.3h7v7h-7zM426.9 112.9h7v7h-7zM399.4 150.5h7v7h-7zM403.5 146.1h7v7h-7zM407.5 141.6h7v7h-7zM411.5 137.2h7v7h-7zM415.6 132.8h7v7h-7zM419.6 128.3h7v7h-7zM423.6 123.9h7v7h-7zM427.7 119.4h7v7h-7z" fill="none" stroke="#ff00ff" stroke-width="1.9"/>
<path d="M433.5 141.6h7v7h-7zM437.8 137.4h7v7h-7zM442.0 133.2h7v7h-7zM372.6 249.2h7v7h-7zM376.9 245.0h7v7h-7zM381.1 240.7h7v7h-7zM385.3 236.5h7v7h-7zM389.6 232.3h7v7h-7zM393.8 228.0h7v7h-7zM398.1 223.8h7v7h-7zM402.3 219.5h7v7h-7zM406.5 215.3h7v7h-7zM410.8 211.0h7v7h-7zM415.0 206.8h7v7h-7zM419.3 202.6h7v7h-7zM423.5 198.3h7v7h-7zM427.8 194.1h7v7h-7zM432.0 189.8h7v7h-7z" fill="none" stroke="#00ffff" stroke-width="2.0"/>
<path d="M446.2 128.9h7v7h-7zM391.9 214.4h7v7h-7zM438.6 167.7h7v7h-7zM411.0 203.0h7v7h-7zM445.0 169.1h7v7h-7zM368.4 253.5h7v7h-7z" fill="none" stroke="#0000ff" stroke-width="2.0"/>
<path d="M423.9 159.0h7v7h-7zM428.2 154.8h7v7h-7zM432.4 150.5h7v7h-7zM436.7 146.3h7v7h-7zM440.9 142.0h7v7h-7zM445.1 137.8h7v7h-7zM449.4 133.6h7v7h-7zM453.6 129.3h7v7h-7zM369.9 228.6h7v7h-7zM374.1 224.4h7v7h-7zM378.4 220.1h7v7h-7zM382.6 215.9h7v7h-7zM386.8 211.7h7v7h-7zM391.1 207.4h7v7h-7zM395.3 203.2h7v7h-7zM399.6 198.9h7v7h-7zM403.8 194.7h7v7h-7zM408.1 190.4h7v7h-7zM412.3 186.2h7v7h-7zM416.5 182.0h7v7h-7zM420.8 177.7h7v7h-7zM425.0 173.5h7v7h-7zM429.3 169.2h7v7h-7zM433.5 165.0h7v7h-7zM437.8 160.7h7v7h-7zM442.0 156.5h7v7h-7zM446.2 152.3h7v7h-7zM450.5 148.0h7v7h-7zM454.7 143.8h7v7h-7zM362.2 244.1h7v7h-7zM366.5 239.8h7v7h-7zM370.7 235.6h7v7h-7zM375.0 231.3h7v7h-7zM379.2 227.1h7v7h-7zM383.4 222.8h7v7h-7zM387.7 218.6h7v7h-7zM396.2 210.1h7v7h-7zM400.4 205.9h7v7h-7zM404.7 201.6h7v7h-7zM408.9 197.4h7v7h-7zM413.1 193.1h7v7h-7zM417.4 188.9h7v7h-7zM421.6 184.7h7v7h-7zM425.9 180.4h7v7h-7zM430.1 176.2h7v7h-7zM434.4 171.9h7v7h-7zM442.8 163.4h7v7h-7zM447.1 159.2h7v7h-7zM451.3 155.0h7v7h-7zM373.2 256.4h7v7h-7zM377.5 252.1h7v7h-7zM381.7 247.9h7v7h-7zM386.0 243.7h7v7h-7zM390.2 239.4h7v7h-7zM394.4 235.2h7v7h-7zM398.7 230.9h7v7h-7zM402.9 226.7h7v7h-7zM407.2 222.4h7v7h-7zM411.4 218.2h7v7h-7zM415.7 214.0h7v7h-7z" fill="none" stroke="#00ff00" stroke-width="2.0"/>
<path d="M411.5 179.2h7v7h-7zM415.7 175.0h7v7h-7zM420.0 170.7h7v7h-7zM424.2 166.5h7v7h-7zM428.5 162.3h7v7h-7zM432.7 158.0h7v7h-7zM437.0 153.8h7v7h-7zM441.2 149.5h7v7h-7zM445.4 145.3h7v7h-7zM449.7 141.0h7v7h-7zM453.9 136.8h7v7h-7zM458.2 132.6h7v7h-7zM364.4 249.7h7v7h-7zM368.6 245.5h7v7h-7zM372.8 241.2h7v7h-7zM377.1 237.0h7v7h-7zM381.3 232.7h7v7h-7zM385.6 228.5h7v7h-7zM389.8 224.2h7v7h-7zM394.1 220.0h7v7h-7zM398.3 215.8h7v7h-7zM402.5 211.5h7v7h-7zM406.8 207.3h7v7h-7zM415.3 198.8h7v7h-7zM419.5 194.5h7v7h-7zM423.8 190.3h7v7h-7zM428.0 186.1h7v7h-7zM432.2 181.8h7v7h-7zM436.5 177.6h7v7h-7zM440.7 173.3h7v7h-7z" fill="none" stroke="#ffff00" stroke-width="2.0"/>
<path d="M447.1 125.9h7v7h-7zM444.6 137.5h7v7h-7zM448.4 132.9h7v7h-7zM452.3 128.3h7v7h-7zM435.1 157.4h7v7h-7zM439.0 152.8h7v7h-7zM442.8 148.2h7v7h-7zM446.7 143.6h7v7h-7zM450.5 139.0h7v7h-7zM454.3 134.4h7v7h-7zM458.2 129.8h7v7h-7zM425.1 178.1h7v7h-7zM428.9 173.5h7v7h-7zM432.7 168.9h7v7h-7zM436.6 164.3h7v7h-7zM440.4 159.7h7v7h-7zM444.3 155.1h7v7h-7zM448.1 150.5h7v7h-7zM452.0 145.9h7v7h-7zM455.8 141.3h7v7h-7zM427.4 183.9h7v7h-7zM431.2 179.3h7v7h-7zM435.1 174.7h7v7h-7zM438.9 170.1h7v7h-7zM442.8 165.5h7v7h-7zM446.6 160.9h7v7h-7zM450.4 156.3h7v7h-7zM426.7 193.4h7v7h-7zM430.5 188.8h7v7h-7zM434.4 184.1h7v7h-7zM438.2 179.5h7v7h-7zM442.1 174.9h7v7h-7z" fill="none" stroke="#00ff00" stroke-width="2.0"/>
<path d="M391.3 178.4h7v7h-7zM395.5 174.1h7v7h-7zM399.8 169.9h7v7h-7zM404.0 165.6h7v7h-7zM408.3 161.4h7v7h-7zM412.5 157.1h7v7h-7zM416.7 152.9h7v7h-7zM421.0 148.7h7v7h-7zM381.9 216.0h7v7h-7zM386.2 211.8h7v7h-7zM390.4 207.5h7v7h-7zM394.6 203.3h7v7h-7zM398.9 199.0h7v7h-7zM403.1 194.8h7v7h-7zM407.4 190.6h7v7h-7zM411.6 186.3h7v7h-7zM415.9 182.1h7v7h-7zM420.1 177.8h7v7h-7z" fill="none" stroke="#00ffff" stroke-width="1.9"/>
<path d="M374.8 201.9h7v7h-7zM379.0 197.7h7v7h-7zM383.3 193.4h7v7h-7zM387.5 189.2h7v7h-7zM391.8 185.0h7v7h-7zM396.0 180.7h7v7h-7zM400.2 176.5h7v7h-7zM404.5 172.2h7v7h-7zM408.7 168.0h7v7h-7zM413.0 163.7h7v7h-7zM417.2 159.5h7v7h-7zM421.5 155.3h7v7h-7zM425.7 151.0h7v7h-7zM372.0 211.8h7v7h-7zM376.2 207.6h7v7h-7zM380.5 203.3h7v7h-7zM384.7 199.1h7v7h-7zM389.0 194.8h7v7h-7zM393.2 190.6h7v7h-7zM397.4 186.3h7v7h-7zM401.7 182.1h7v7h-7zM405.9 177.9h7v7h-7zM410.2 173.6h7v7h-7zM414.4 169.4h7v7h-7zM418.7 165.1h7v7h-7zM422.9 160.9h7v7h-7zM427.1 156.6h7v7h-7z" fill="none" stroke="#0000ff" stroke-width="1.9"/>
<path d="M374.3 216.5h7v7h-7zM378.6 212.3h7v7h-7zM382.8 208.1h7v7h-7zM387.0 203.8h7v7h-7zM391.3 199.6h7v7h-7zM395.5 195.3h7v7h-7zM399.8 191.1h7v7h-7zM404.0 186.8h7v7h-7zM408.3 182.6h7v7h-7zM412.5 178.4h7v7h-7zM416.7 174.1h7v7h-7zM421.0 169.9h7v7h-7z" fill="none" stroke="#000000" stroke-width="1.9"/>
<path d="M457.9 129.6h7v7h-7zM455.2 142.4h7v7h-7zM458.6 137.4h7v7h-7zM462.0 132.5h7v7h-7zM465.4 127.5h7v7h-7zM468.8 122.6h7v7h-7zM378.8 262.8h7v7h-7zM382.2 257.8h7v7h-7zM385.6 252.9h7v7h-7zM389.0 247.9h7v7h-7zM402.5 228.1h7v7h-7zM450.0 158.8h7v7h-7zM453.4 153.9h7v7h-7zM456.8 148.9h7v7h-7zM460.2 144.0h7v7h-7zM463.6 139.0h7v7h-7zM467.0 134.1h7v7h-7zM470.4 129.1h7v7h-7zM473.7 124.2h7v7h-7zM477.1 119.2h7v7h-7zM379.0 271.4h7v7h-7zM382.4 266.5h7v7h-7zM385.8 261.5h7v7h-7zM389.1 256.6h7v7h-7zM392.5 251.6h7v7h-7zM395.9 246.7h7v7h-7zM399.3 241.7h7v7h-7zM402.7 236.8h7v7h-7zM406.1 231.8h7v7h-7zM409.5 226.9h7v7h-7zM412.9 221.9h7v7h-7zM416.3 217.0h7v7h-7zM419.7 212.0h7v7h-7zM423.0 207.1h7v7h-7zM426.4 202.1h7v7h-7zM429.8 197.2h7v7h-7zM433.2 192.2h7v7h-7zM436.6 187.3h7v7h-7zM440.0 182.3h7v7h-7zM443.4 177.4h7v7h-7zM446.8 172.4h7v7h-7zM450.2 167.5h7v7h-7zM453.6 162.5h7v7h-7zM457.0 157.6h7v7h-7zM460.3 152.6h7v7h-7zM463.7 147.7h7v7h-7zM467.1 142.7h7v7h-7zM470.5 137.8h7v7h-7zM473.9 132.8h7v7h-7zM477.3 127.9h7v7h-7zM480.7 122.9h7v7h-7zM484.1 118.0h7v7h-7zM382.2 275.6h7v7h-7zM385.6 270.6h7v7h-7zM389.0 265.7h7v7h-7zM392.4 260.7h7v7h-7zM395.7 255.8h7v7h-7zM399.1 250.8h7v7h-7zM402.5 245.9h7v7h-7zM405.9 240.9h7v7h-7zM409.3 236.0h7v7h-7zM412.7 231.0h7v7h-7zM416.1 226.1h7v7h-7zM419.5 221.1h7v7h-7zM422.9 216.2h7v7h-7zM426.3 211.2h7v7h-7zM429.7 206.3h7v7h-7zM433.0 201.3h7v7h-7zM436.4 196.4h7v7h-7zM439.8 191.4h7v7h-7zM443.2 186.5h7v7h-7zM446.6 181.5h7v7h-7zM450.0 176.6h7v7h-7zM453.4 171.6h7v7h-7zM456.8 166.7h7v7h-7zM460.2 161.7h7v7h-7zM463.6 156.8h7v7h-7zM466.9 151.8h7v7h-7zM470.3 146.9h7v7h-7zM473.7 141.9h7v7h-7zM477.1 137.0h7v7h-7zM480.5 132.0h7v7h-7zM483.9 127.1h7v7h-7zM487.3 122.1h7v7h-7zM490.7 117.2h7v7h-7zM385.7 279.3h7v7h-7zM389.1 274.3h7v7h-7zM392.5 269.4h7v7h-7zM395.9 264.4h7v7h-7zM399.3 259.5h7v7h-7zM402.6 254.5h7v7h-7zM406.0 249.6h7v7h-7zM409.4 244.6h7v7h-7zM412.8 239.7h7v7h-7zM416.2 234.7h7v7h-7zM419.6 229.8h7v7h-7zM423.0 224.8h7v7h-7zM426.4 219.9h7v7h-7zM429.8 214.9h7v7h-7zM433.2 210.0h7v7h-7zM436.5 205.0h7v7h-7zM439.9 200.1h7v7h-7zM443.3 195.1h7v7h-7zM446.7 190.2h7v7h-7zM450.1 185.2h7v7h-7zM453.5 180.3h7v7h-7zM456.9 175.3h7v7h-7zM460.3 170.4h7v7h-7zM463.7 165.4h7v7h-7zM467.1 160.5h7v7h-7zM470.5 155.5h7v7h-7zM473.8 150.6h7v7h-7zM477.2 145.6h7v7h-7zM480.6 140.7h7v7h-7zM484.0 135.7h7v7h-7zM487.4 130.8h7v7h-7zM490.8 125.8h7v7h-7zM494.2 120.9h7v7h-7zM432.9 219.2h7v7h-7zM436.3 214.2h7v7h-7zM439.7 209.3h7v7h-7zM443.1 204.3h7v7h-7zM446.5 199.4h7v7h-7zM449.9 194.4h7v7h-7zM453.3 189.5h7v7h-7zM456.7 184.5h7v7h-7zM460.1 179.6h7v7h-7zM463.5 174.6h7v7h-7zM466.8 169.7h7v7h-7zM470.2 164.7h7v7h-7zM473.6 159.8h7v7h-7zM477.0 154.8h7v7h-7zM480.4 149.9h7v7h-7zM483.8 144.9h7v7h-7zM487.2 140.0h7v7h-7zM490.6 135.0h7v7h-7zM494.0 130.1h7v7h-7zM464.5 182.0h7v7h-7zM467.9 177.0h7v7h-7zM471.3 172.1h7v7h-7z" fill="none" stroke="#ffff00" stroke-width="1.9"/>
<path d="M192.0,300.0 L207.0,300.0 L207.0,327.0 L192.0,317.0 Z" fill="#00ff00"/>
<path d="M195.0,305.0 L222.0,305.0 L224.0,320.0 L197.0,322.0 Z" fill="#ffff00"/>
<path d="M196.0,320.0 L207.0,316.0 L220.0,318.0 L240.0,311.0 L256.0,303.5 L260.0,301.5 L282.0,290.5 L304.0,284.0 L325.0,277.5 L347.0,274.0 L365.0,274.0 L373.0,279.0 L376.0,284.0 L371.0,290.0 L368.0,295.0 L362.0,290.0 L352.0,282.0 L325.0,284.0 L304.0,288.5 L282.0,301.5 L260.0,316.7 L240.0,325.0 L222.0,336.0 L214.0,344.0 L205.0,342.0 L196.0,333.0 Z" fill="#ff0000"/>
<path d="M213.0,332.0 L222.0,329.0 L240.0,324.0 L256.0,317.0 L282.0,302.0 L304.0,289.0 L325.0,285.0 L351.0,282.0 L362.0,286.0 L366.0,291.0 L354.0,296.0 L336.0,301.5 L317.0,308.0 L299.0,317.0 L280.0,325.0 L267.0,328.0 L256.0,341.6 L245.0,350.5 L229.0,353.0 L216.0,344.0 Z" fill="#ff00ff"/>
<path d="M238.0,360.0 L245.0,345.0 L252.0,336.0 L262.0,324.0 L275.0,312.0 L290.0,302.0 L300.0,296.0 L303.0,306.0 L298.0,316.0 L285.0,324.0 L278.0,334.0 L278.0,350.0 L276.0,364.0 L262.0,372.0 L255.0,383.0 L244.0,383.0 L237.0,372.0 Z" fill="url(#Dg)"/>
<path d="M239.0,362.0 L244.0,347.0 L251.0,337.0 L261.0,325.0 L274.0,313.0 L289.0,303.0 L300.0,296.0" fill="none" stroke="#0000ff" stroke-width="3.0" stroke-linejoin="round" stroke-linecap="round"/>
<path d="M242.0,362.0 L247.0,349.0 L254.0,339.0 L264.0,327.0 L277.0,315.0 L291.0,305.0 L301.0,299.0" fill="none" stroke="#00ffff" stroke-width="3.0" stroke-linejoin="round" stroke-linecap="round"/>
<path d="M239.0,360.0 L243.0,350.0 L250.0,341.0 L258.0,336.0 L252.0,350.0 L249.0,362.0 L251.0,372.0 L258.0,377.0 L265.0,376.0 L262.0,382.0 L256.0,385.0 L248.0,382.0 L241.0,372.0 Z" fill="#0000ff"/>
<path d="M246.0,353.0 L252.0,344.0 L257.0,345.0 L253.0,356.0 L253.0,369.0 L258.0,373.0 L263.0,373.0 L259.0,378.0 L251.0,376.0 L247.0,366.0 Z" fill="#00ffff"/>
<path d="M255.0,344.0 L262.0,340.0 L274.0,345.0 L278.0,352.0 L277.0,364.0 L270.0,371.0 L262.0,372.0 L256.0,368.0 L255.0,356.0 Z" fill="#00ff00"/>
<path d="M257.0,360.0 L263.0,360.0 L263.0,362.0 L259.0,362.0 L259.0,368.0 L263.0,368.0 L263.0,371.0 L257.0,371.0 Z" fill="#0000ff"/>
<path d="M268.5,339.0h7M272.0,335.5v7M272.5,336.0h7M276.0,332.5v7M277.2,333.0h7M280.7,329.5v7M281.8,330.0h7M285.3,326.5v7M286.5,327.0h7M290.0,323.5v7M291.5,324.5h7M295.0,321.0v7M296.5,322.0h7M300.0,318.5v7M301.5,319.5h7M305.0,316.0v7M306.5,317.0h7M310.0,313.5v7M311.5,314.8h7M315.0,311.2v7M316.5,312.5h7M320.0,309.0v7M321.5,310.2h7M325.0,306.8v7M326.5,308.0h7M330.0,304.5v7M330.9,306.2h7M334.4,302.7v7M335.3,304.4h7M338.8,300.9v7M339.7,302.6h7M343.2,299.1v7M344.1,300.8h7M347.6,297.3v7M348.5,299.0h7M352.0,295.5v7M353.5,294.5h7M357.0,291.0v7M358.5,290.0h7M362.0,286.5v7" stroke="#000" stroke-width="1.3" fill="none"/>
<path d="M272.0,339.0 L276.0,336.0 L290.0,327.0 L310.0,317.0 L330.0,308.0 L352.0,299.0 L362.0,290.0" stroke="#000" stroke-width="1.3" fill="none"/>
<path d="M268.5,339.0h7M272.0,335.5v7M272.0,333.5h7M275.5,330.0v7M275.5,328.0h7M279.0,324.5v7M279.7,325.6h7M283.2,322.1v7M283.9,323.2h7M287.4,319.7v7M288.1,320.8h7M291.6,317.3v7M292.3,318.4h7M295.8,314.9v7M296.5,316.0h7M300.0,312.5v7M301.5,314.0h7M305.0,310.5v7M306.5,312.0h7M310.0,308.5v7M311.5,310.0h7M315.0,306.5v7M316.5,308.0h7M320.0,304.5v7M321.5,305.8h7M325.0,302.2v7M326.5,303.5h7M330.0,300.0v7M331.5,301.2h7M335.0,297.8v7M336.5,299.0h7M340.0,295.5v7M340.5,296.6h7M344.0,293.1v7M344.5,294.2h7M348.0,290.7v7M348.5,291.8h7M352.0,288.3v7M352.5,289.4h7M356.0,285.9v7M356.5,287.0h7M360.0,283.5v7M361.0,284.5h7M364.5,281.0v7M365.5,282.0h7M369.0,278.5v7" stroke="#000" stroke-width="1.3" fill="none"/>
<path d="M272.0,339.0 L279.0,328.0 L300.0,316.0 L320.0,308.0 L340.0,299.0 L360.0,287.0 L369.0,282.0" stroke="#000" stroke-width="1.3" fill="none"/>
<g stroke="#262626" stroke-width="1" fill="none" stroke-linecap="butt"><line x1="77.1" y1="298.5" x2="77.1" y2="79.0"/><line x1="237.2" y1="393.2" x2="77.1" y2="298.5"/><line x1="237.2" y1="393.2" x2="538.5" y2="343.0"/><line x1="77.1" y1="298.5" x2="70.6" y2="294.7"/><line x1="77.1" y1="254.6" x2="70.6" y2="250.8"/><line x1="77.1" y1="210.7" x2="70.6" y2="206.9"/><line x1="77.1" y1="166.8" x2="70.6" y2="163.0"/><line x1="77.1" y1="122.9" x2="70.6" y2="119.1"/><line x1="77.1" y1="79.0" x2="70.6" y2="75.2"/><line x1="237.2" y1="393.2" x2="229.8" y2="394.4"/><line x1="183.8" y1="361.6" x2="176.4" y2="362.9"/><line x1="130.5" y1="330.1" x2="123.1" y2="331.3"/><line x1="77.1" y1="298.5" x2="69.7" y2="299.7"/><line x1="237.2" y1="393.2" x2="243.7" y2="397.0"/><line x1="304.2" y1="382.0" x2="310.6" y2="385.9"/><line x1="371.1" y1="370.9" x2="377.6" y2="374.7"/><line x1="438.1" y1="359.7" x2="444.5" y2="363.6"/><line x1="505.0" y1="348.6" x2="511.5" y2="352.4"/></g>
<g font-size="16">
<text x="65.5" y="79.6" text-anchor="end">0.25</text>
<text x="65.5" y="123.6" text-anchor="end">0.2</text>
<text x="65.5" y="167.4" text-anchor="end">0.15</text>
<text x="65.5" y="211.2" text-anchor="end">0.1</text>
<text x="65.5" y="255" text-anchor="end">0.05</text>
<text x="65.5" y="298.6" text-anchor="end">0</text>
<text x="63.5" y="317.8" text-anchor="end">6</text>
<text x="117.3" y="349" text-anchor="end">4</text>
<text x="170.8" y="381.2" text-anchor="end">2</text>
<text x="224" y="412.6" text-anchor="end">0</text>
<text x="257" y="416.8" text-anchor="end">0</text>
<text x="343.6" y="405.8" text-anchor="end">-0.2</text>
<text x="410.3" y="394.9" text-anchor="end">-0.4</text>
<text x="477.5" y="383.4" text-anchor="end">-0.6</text>
<text x="544.4" y="372.8" text-anchor="end">-0.8</text>
</g>
<g font-size="18">
<text x="57" y="437" font-size="18.2">Center shift-tile size ratio</text>
<text x="368.7" y="428">ln (q)</text>
<text transform="translate(17.9,204) rotate(-90)">S<tspan font-size="14" dy="7">s</tspan><tspan dy="-7"> tr</tspan></text>
</g>
<text x="307.5" y="22" font-size="18.2" font-weight="bold" text-anchor="middle" style="fill:#000">Circular wave, off-center</text>
</svg>
</body></html>
